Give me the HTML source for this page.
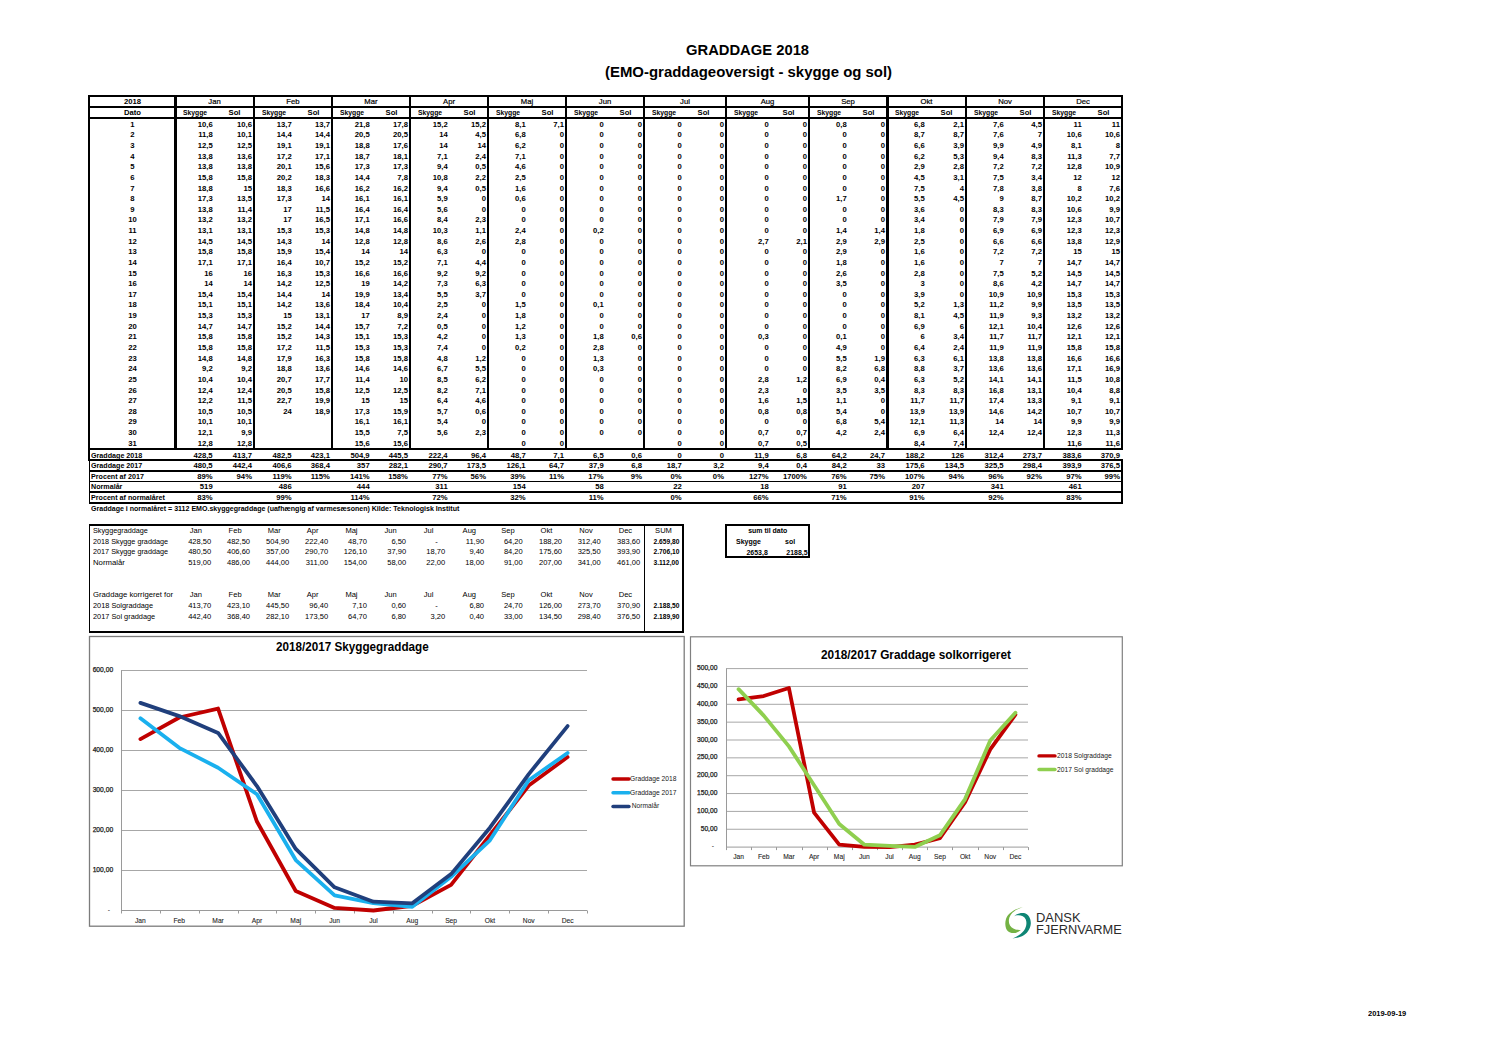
<!DOCTYPE html>
<html><head><meta charset="utf-8">
<style>
html,body{margin:0;padding:0;background:#fff;}
#pg{position:relative;width:1497px;height:1058px;overflow:hidden;background:#fff;font-family:"Liberation Sans",sans-serif;color:#000;}
#pg div,#pg span{position:absolute;white-space:nowrap;}
</style></head><body><div id="pg">
<span style="top:41.70px;font-size:15.12px;line-height:15.12px;font-weight:bold;left:686.40px;transform:scaleX(0.977);transform-origin:left top;">GRADDAGE 2018</span>
<span style="top:65.25px;font-size:14.83px;line-height:14.83px;font-weight:bold;left:604.50px;transform:scaleX(1.007);transform-origin:left top;">(EMO-graddageoversigt - skygge og sol)</span>
<div style="left:88px;top:95px;width:1035px;height:2px;background:#000"></div>
<div style="left:88px;top:106px;width:1035px;height:2px;background:#000"></div>
<div style="left:88px;top:117px;width:1035px;height:2px;background:#000"></div>
<div style="left:88px;top:448px;width:1035px;height:2px;background:#000"></div>
<div style="left:88px;top:95px;width:2px;height:366px;background:#000"></div>
<div style="left:174px;top:95px;width:2.6px;height:355px;background:#000"></div>
<div style="left:253px;top:95px;width:2px;height:355px;background:#000"></div>
<div style="left:331px;top:95px;width:2px;height:355px;background:#000"></div>
<div style="left:409px;top:95px;width:2px;height:355px;background:#000"></div>
<div style="left:487px;top:95px;width:2px;height:355px;background:#000"></div>
<div style="left:565px;top:95px;width:2px;height:355px;background:#000"></div>
<div style="left:643px;top:95px;width:2px;height:355px;background:#000"></div>
<div style="left:725px;top:95px;width:2px;height:355px;background:#000"></div>
<div style="left:808px;top:95px;width:2px;height:355px;background:#000"></div>
<div style="left:886px;top:95px;width:2.6px;height:355px;background:#000"></div>
<div style="left:965px;top:95px;width:2px;height:355px;background:#000"></div>
<div style="left:1043px;top:95px;width:2px;height:355px;background:#000"></div>
<div style="left:1121px;top:95px;width:2px;height:355px;background:#000"></div>
<div style="left:89px;top:459px;width:1034px;height:2px;background:#000"></div>
<div style="left:89px;top:470px;width:1034px;height:2px;background:#000"></div>
<div style="left:89px;top:481px;width:1034px;height:1px;background:#000"></div>
<div style="left:89px;top:491px;width:1034px;height:2px;background:#000"></div>
<div style="left:89px;top:502px;width:1034px;height:2px;background:#000"></div>
<div style="left:89px;top:459px;width:1px;height:45px;background:#000"></div>
<div style="left:1121px;top:459px;width:2px;height:45px;background:#000"></div>
<span style="top:97.98px;font-size:7.70px;line-height:7.70px;font-weight:bold;left:123.93px;">2018</span>
<span style="top:108.58px;font-size:7.70px;line-height:7.70px;font-weight:bold;left:123.94px;">Dato</span>
<span style="top:97.98px;font-size:7.70px;line-height:7.70px;-webkit-text-stroke:0.2px #000;left:208.29px;">Jan</span>
<span style="top:108.58px;font-size:7.70px;line-height:7.70px;font-weight:bold;left:182.70px;transform:scaleX(0.880);transform-origin:left top;">Skygge</span>
<span style="top:108.58px;font-size:7.70px;line-height:7.70px;font-weight:bold;left:228.50px;">Sol</span>
<span style="top:97.98px;font-size:7.70px;line-height:7.70px;-webkit-text-stroke:0.2px #000;left:286.36px;">Feb</span>
<span style="top:108.58px;font-size:7.70px;line-height:7.70px;font-weight:bold;left:261.70px;transform:scaleX(0.880);transform-origin:left top;">Skygge</span>
<span style="top:108.58px;font-size:7.70px;line-height:7.70px;font-weight:bold;left:307.50px;">Sol</span>
<span style="top:97.98px;font-size:7.70px;line-height:7.70px;-webkit-text-stroke:0.2px #000;left:364.37px;">Mar</span>
<span style="top:108.58px;font-size:7.70px;line-height:7.70px;font-weight:bold;left:339.70px;transform:scaleX(0.880);transform-origin:left top;">Skygge</span>
<span style="top:108.58px;font-size:7.70px;line-height:7.70px;font-weight:bold;left:385.50px;">Sol</span>
<span style="top:97.98px;font-size:7.70px;line-height:7.70px;-webkit-text-stroke:0.2px #000;left:443.01px;">Apr</span>
<span style="top:108.58px;font-size:7.70px;line-height:7.70px;font-weight:bold;left:417.70px;transform:scaleX(0.880);transform-origin:left top;">Skygge</span>
<span style="top:108.58px;font-size:7.70px;line-height:7.70px;font-weight:bold;left:463.50px;">Sol</span>
<span style="top:97.98px;font-size:7.70px;line-height:7.70px;-webkit-text-stroke:0.2px #000;left:520.79px;">Maj</span>
<span style="top:108.58px;font-size:7.70px;line-height:7.70px;font-weight:bold;left:495.70px;transform:scaleX(0.880);transform-origin:left top;">Skygge</span>
<span style="top:108.58px;font-size:7.70px;line-height:7.70px;font-weight:bold;left:541.50px;">Sol</span>
<span style="top:97.98px;font-size:7.70px;line-height:7.70px;-webkit-text-stroke:0.2px #000;left:598.79px;">Jun</span>
<span style="top:108.58px;font-size:7.70px;line-height:7.70px;font-weight:bold;left:573.70px;transform:scaleX(0.880);transform-origin:left top;">Skygge</span>
<span style="top:108.58px;font-size:7.70px;line-height:7.70px;font-weight:bold;left:619.50px;">Sol</span>
<span style="top:97.98px;font-size:7.70px;line-height:7.70px;-webkit-text-stroke:0.2px #000;left:680.08px;">Jul</span>
<span style="top:108.58px;font-size:7.70px;line-height:7.70px;font-weight:bold;left:651.70px;transform:scaleX(0.880);transform-origin:left top;">Skygge</span>
<span style="top:108.58px;font-size:7.70px;line-height:7.70px;font-weight:bold;left:697.50px;">Sol</span>
<span style="top:97.98px;font-size:7.70px;line-height:7.70px;-webkit-text-stroke:0.2px #000;left:760.65px;">Aug</span>
<span style="top:108.58px;font-size:7.70px;line-height:7.70px;font-weight:bold;left:733.70px;transform:scaleX(0.880);transform-origin:left top;">Skygge</span>
<span style="top:108.58px;font-size:7.70px;line-height:7.70px;font-weight:bold;left:782.50px;">Sol</span>
<span style="top:97.98px;font-size:7.70px;line-height:7.70px;-webkit-text-stroke:0.2px #000;left:841.15px;">Sep</span>
<span style="top:108.58px;font-size:7.70px;line-height:7.70px;font-weight:bold;left:816.70px;transform:scaleX(0.880);transform-origin:left top;">Skygge</span>
<span style="top:108.58px;font-size:7.70px;line-height:7.70px;font-weight:bold;left:862.50px;">Sol</span>
<span style="top:97.98px;font-size:7.70px;line-height:7.70px;-webkit-text-stroke:0.2px #000;left:920.51px;">Okt</span>
<span style="top:108.58px;font-size:7.70px;line-height:7.70px;font-weight:bold;left:894.70px;transform:scaleX(0.880);transform-origin:left top;">Skygge</span>
<span style="top:108.58px;font-size:7.70px;line-height:7.70px;font-weight:bold;left:940.50px;">Sol</span>
<span style="top:97.98px;font-size:7.70px;line-height:7.70px;-webkit-text-stroke:0.2px #000;left:998.15px;">Nov</span>
<span style="top:108.58px;font-size:7.70px;line-height:7.70px;font-weight:bold;left:973.70px;transform:scaleX(0.880);transform-origin:left top;">Skygge</span>
<span style="top:108.58px;font-size:7.70px;line-height:7.70px;font-weight:bold;left:1019.50px;">Sol</span>
<span style="top:97.98px;font-size:7.70px;line-height:7.70px;-webkit-text-stroke:0.2px #000;left:1076.15px;">Dec</span>
<span style="top:108.58px;font-size:7.70px;line-height:7.70px;font-weight:bold;left:1051.70px;transform:scaleX(0.880);transform-origin:left top;">Skygge</span>
<span style="top:108.58px;font-size:7.70px;line-height:7.70px;font-weight:bold;left:1097.50px;">Sol</span>
<span style="top:120.78px;font-size:7.70px;line-height:7.70px;font-weight:bold;left:130.36px;">1</span>
<span style="top:120.78px;font-size:7.70px;line-height:7.70px;font-weight:bold;left:197.71px;">10,6</span>
<span style="top:120.78px;font-size:7.70px;line-height:7.70px;font-weight:bold;left:237.01px;">10,6</span>
<span style="top:120.78px;font-size:7.70px;line-height:7.70px;font-weight:bold;left:276.71px;">13,7</span>
<span style="top:120.78px;font-size:7.70px;line-height:7.70px;font-weight:bold;left:315.01px;">13,7</span>
<span style="top:120.78px;font-size:7.70px;line-height:7.70px;font-weight:bold;left:354.71px;">21,8</span>
<span style="top:120.78px;font-size:7.70px;line-height:7.70px;font-weight:bold;left:393.01px;">17,8</span>
<span style="top:120.78px;font-size:7.70px;line-height:7.70px;font-weight:bold;left:432.71px;">15,2</span>
<span style="top:120.78px;font-size:7.70px;line-height:7.70px;font-weight:bold;left:471.01px;">15,2</span>
<span style="top:120.78px;font-size:7.70px;line-height:7.70px;font-weight:bold;left:514.99px;">8,1</span>
<span style="top:120.78px;font-size:7.70px;line-height:7.70px;font-weight:bold;left:553.29px;">7,1</span>
<span style="top:120.78px;font-size:7.70px;line-height:7.70px;font-weight:bold;left:599.42px;">0</span>
<span style="top:120.78px;font-size:7.70px;line-height:7.70px;font-weight:bold;left:637.72px;">0</span>
<span style="top:120.78px;font-size:7.70px;line-height:7.70px;font-weight:bold;left:677.42px;">0</span>
<span style="top:120.78px;font-size:7.70px;line-height:7.70px;font-weight:bold;left:719.72px;">0</span>
<span style="top:120.78px;font-size:7.70px;line-height:7.70px;font-weight:bold;left:764.42px;">0</span>
<span style="top:120.78px;font-size:7.70px;line-height:7.70px;font-weight:bold;left:802.72px;">0</span>
<span style="top:120.78px;font-size:7.70px;line-height:7.70px;font-weight:bold;left:835.99px;">0,8</span>
<span style="top:120.78px;font-size:7.70px;line-height:7.70px;font-weight:bold;left:880.72px;">0</span>
<span style="top:120.78px;font-size:7.70px;line-height:7.70px;font-weight:bold;left:913.99px;">6,8</span>
<span style="top:120.78px;font-size:7.70px;line-height:7.70px;font-weight:bold;left:953.29px;">2,1</span>
<span style="top:120.78px;font-size:7.70px;line-height:7.70px;font-weight:bold;left:992.99px;">7,6</span>
<span style="top:120.78px;font-size:7.70px;line-height:7.70px;font-weight:bold;left:1031.29px;">4,5</span>
<span style="top:120.78px;font-size:7.70px;line-height:7.70px;font-weight:bold;left:1073.56px;">11</span>
<span style="top:120.78px;font-size:7.70px;line-height:7.70px;font-weight:bold;left:1111.86px;">11</span>
<span style="top:131.41px;font-size:7.70px;line-height:7.70px;font-weight:bold;left:130.36px;">2</span>
<span style="top:131.41px;font-size:7.70px;line-height:7.70px;font-weight:bold;left:198.13px;">11,8</span>
<span style="top:131.41px;font-size:7.70px;line-height:7.70px;font-weight:bold;left:237.01px;">10,1</span>
<span style="top:131.41px;font-size:7.70px;line-height:7.70px;font-weight:bold;left:276.71px;">14,4</span>
<span style="top:131.41px;font-size:7.70px;line-height:7.70px;font-weight:bold;left:315.01px;">14,4</span>
<span style="top:131.41px;font-size:7.70px;line-height:7.70px;font-weight:bold;left:354.71px;">20,5</span>
<span style="top:131.41px;font-size:7.70px;line-height:7.70px;font-weight:bold;left:393.01px;">20,5</span>
<span style="top:131.41px;font-size:7.70px;line-height:7.70px;font-weight:bold;left:439.13px;">14</span>
<span style="top:131.41px;font-size:7.70px;line-height:7.70px;font-weight:bold;left:475.29px;">4,5</span>
<span style="top:131.41px;font-size:7.70px;line-height:7.70px;font-weight:bold;left:514.99px;">6,8</span>
<span style="top:131.41px;font-size:7.70px;line-height:7.70px;font-weight:bold;left:559.72px;">0</span>
<span style="top:131.41px;font-size:7.70px;line-height:7.70px;font-weight:bold;left:599.42px;">0</span>
<span style="top:131.41px;font-size:7.70px;line-height:7.70px;font-weight:bold;left:637.72px;">0</span>
<span style="top:131.41px;font-size:7.70px;line-height:7.70px;font-weight:bold;left:677.42px;">0</span>
<span style="top:131.41px;font-size:7.70px;line-height:7.70px;font-weight:bold;left:719.72px;">0</span>
<span style="top:131.41px;font-size:7.70px;line-height:7.70px;font-weight:bold;left:764.42px;">0</span>
<span style="top:131.41px;font-size:7.70px;line-height:7.70px;font-weight:bold;left:802.72px;">0</span>
<span style="top:131.41px;font-size:7.70px;line-height:7.70px;font-weight:bold;left:842.42px;">0</span>
<span style="top:131.41px;font-size:7.70px;line-height:7.70px;font-weight:bold;left:880.72px;">0</span>
<span style="top:131.41px;font-size:7.70px;line-height:7.70px;font-weight:bold;left:913.99px;">8,7</span>
<span style="top:131.41px;font-size:7.70px;line-height:7.70px;font-weight:bold;left:953.29px;">8,7</span>
<span style="top:131.41px;font-size:7.70px;line-height:7.70px;font-weight:bold;left:992.99px;">7,6</span>
<span style="top:131.41px;font-size:7.70px;line-height:7.70px;font-weight:bold;left:1037.72px;">7</span>
<span style="top:131.41px;font-size:7.70px;line-height:7.70px;font-weight:bold;left:1066.71px;">10,6</span>
<span style="top:131.41px;font-size:7.70px;line-height:7.70px;font-weight:bold;left:1105.01px;">10,6</span>
<span style="top:142.04px;font-size:7.70px;line-height:7.70px;font-weight:bold;left:130.36px;">3</span>
<span style="top:142.04px;font-size:7.70px;line-height:7.70px;font-weight:bold;left:197.71px;">12,5</span>
<span style="top:142.04px;font-size:7.70px;line-height:7.70px;font-weight:bold;left:237.01px;">12,5</span>
<span style="top:142.04px;font-size:7.70px;line-height:7.70px;font-weight:bold;left:276.71px;">19,1</span>
<span style="top:142.04px;font-size:7.70px;line-height:7.70px;font-weight:bold;left:315.01px;">19,1</span>
<span style="top:142.04px;font-size:7.70px;line-height:7.70px;font-weight:bold;left:354.71px;">18,8</span>
<span style="top:142.04px;font-size:7.70px;line-height:7.70px;font-weight:bold;left:393.01px;">17,6</span>
<span style="top:142.04px;font-size:7.70px;line-height:7.70px;font-weight:bold;left:439.13px;">14</span>
<span style="top:142.04px;font-size:7.70px;line-height:7.70px;font-weight:bold;left:477.43px;">14</span>
<span style="top:142.04px;font-size:7.70px;line-height:7.70px;font-weight:bold;left:514.99px;">6,2</span>
<span style="top:142.04px;font-size:7.70px;line-height:7.70px;font-weight:bold;left:559.72px;">0</span>
<span style="top:142.04px;font-size:7.70px;line-height:7.70px;font-weight:bold;left:599.42px;">0</span>
<span style="top:142.04px;font-size:7.70px;line-height:7.70px;font-weight:bold;left:637.72px;">0</span>
<span style="top:142.04px;font-size:7.70px;line-height:7.70px;font-weight:bold;left:677.42px;">0</span>
<span style="top:142.04px;font-size:7.70px;line-height:7.70px;font-weight:bold;left:719.72px;">0</span>
<span style="top:142.04px;font-size:7.70px;line-height:7.70px;font-weight:bold;left:764.42px;">0</span>
<span style="top:142.04px;font-size:7.70px;line-height:7.70px;font-weight:bold;left:802.72px;">0</span>
<span style="top:142.04px;font-size:7.70px;line-height:7.70px;font-weight:bold;left:842.42px;">0</span>
<span style="top:142.04px;font-size:7.70px;line-height:7.70px;font-weight:bold;left:880.72px;">0</span>
<span style="top:142.04px;font-size:7.70px;line-height:7.70px;font-weight:bold;left:913.99px;">6,6</span>
<span style="top:142.04px;font-size:7.70px;line-height:7.70px;font-weight:bold;left:953.29px;">3,9</span>
<span style="top:142.04px;font-size:7.70px;line-height:7.70px;font-weight:bold;left:992.99px;">9,9</span>
<span style="top:142.04px;font-size:7.70px;line-height:7.70px;font-weight:bold;left:1031.29px;">4,9</span>
<span style="top:142.04px;font-size:7.70px;line-height:7.70px;font-weight:bold;left:1070.99px;">8,1</span>
<span style="top:142.04px;font-size:7.70px;line-height:7.70px;font-weight:bold;left:1115.72px;">8</span>
<span style="top:152.67px;font-size:7.70px;line-height:7.70px;font-weight:bold;left:130.36px;">4</span>
<span style="top:152.67px;font-size:7.70px;line-height:7.70px;font-weight:bold;left:197.71px;">13,8</span>
<span style="top:152.67px;font-size:7.70px;line-height:7.70px;font-weight:bold;left:237.01px;">13,6</span>
<span style="top:152.67px;font-size:7.70px;line-height:7.70px;font-weight:bold;left:276.71px;">17,2</span>
<span style="top:152.67px;font-size:7.70px;line-height:7.70px;font-weight:bold;left:315.01px;">17,1</span>
<span style="top:152.67px;font-size:7.70px;line-height:7.70px;font-weight:bold;left:354.71px;">18,7</span>
<span style="top:152.67px;font-size:7.70px;line-height:7.70px;font-weight:bold;left:393.01px;">18,1</span>
<span style="top:152.67px;font-size:7.70px;line-height:7.70px;font-weight:bold;left:436.99px;">7,1</span>
<span style="top:152.67px;font-size:7.70px;line-height:7.70px;font-weight:bold;left:475.29px;">2,4</span>
<span style="top:152.67px;font-size:7.70px;line-height:7.70px;font-weight:bold;left:514.99px;">7,1</span>
<span style="top:152.67px;font-size:7.70px;line-height:7.70px;font-weight:bold;left:559.72px;">0</span>
<span style="top:152.67px;font-size:7.70px;line-height:7.70px;font-weight:bold;left:599.42px;">0</span>
<span style="top:152.67px;font-size:7.70px;line-height:7.70px;font-weight:bold;left:637.72px;">0</span>
<span style="top:152.67px;font-size:7.70px;line-height:7.70px;font-weight:bold;left:677.42px;">0</span>
<span style="top:152.67px;font-size:7.70px;line-height:7.70px;font-weight:bold;left:719.72px;">0</span>
<span style="top:152.67px;font-size:7.70px;line-height:7.70px;font-weight:bold;left:764.42px;">0</span>
<span style="top:152.67px;font-size:7.70px;line-height:7.70px;font-weight:bold;left:802.72px;">0</span>
<span style="top:152.67px;font-size:7.70px;line-height:7.70px;font-weight:bold;left:842.42px;">0</span>
<span style="top:152.67px;font-size:7.70px;line-height:7.70px;font-weight:bold;left:880.72px;">0</span>
<span style="top:152.67px;font-size:7.70px;line-height:7.70px;font-weight:bold;left:913.99px;">6,2</span>
<span style="top:152.67px;font-size:7.70px;line-height:7.70px;font-weight:bold;left:953.29px;">5,3</span>
<span style="top:152.67px;font-size:7.70px;line-height:7.70px;font-weight:bold;left:992.99px;">9,4</span>
<span style="top:152.67px;font-size:7.70px;line-height:7.70px;font-weight:bold;left:1031.29px;">8,3</span>
<span style="top:152.67px;font-size:7.70px;line-height:7.70px;font-weight:bold;left:1067.13px;">11,3</span>
<span style="top:152.67px;font-size:7.70px;line-height:7.70px;font-weight:bold;left:1109.29px;">7,7</span>
<span style="top:163.30px;font-size:7.70px;line-height:7.70px;font-weight:bold;left:130.36px;">5</span>
<span style="top:163.30px;font-size:7.70px;line-height:7.70px;font-weight:bold;left:197.71px;">13,8</span>
<span style="top:163.30px;font-size:7.70px;line-height:7.70px;font-weight:bold;left:237.01px;">13,8</span>
<span style="top:163.30px;font-size:7.70px;line-height:7.70px;font-weight:bold;left:276.71px;">20,1</span>
<span style="top:163.30px;font-size:7.70px;line-height:7.70px;font-weight:bold;left:315.01px;">15,6</span>
<span style="top:163.30px;font-size:7.70px;line-height:7.70px;font-weight:bold;left:354.71px;">17,3</span>
<span style="top:163.30px;font-size:7.70px;line-height:7.70px;font-weight:bold;left:393.01px;">17,3</span>
<span style="top:163.30px;font-size:7.70px;line-height:7.70px;font-weight:bold;left:436.99px;">9,4</span>
<span style="top:163.30px;font-size:7.70px;line-height:7.70px;font-weight:bold;left:475.29px;">0,5</span>
<span style="top:163.30px;font-size:7.70px;line-height:7.70px;font-weight:bold;left:514.99px;">4,6</span>
<span style="top:163.30px;font-size:7.70px;line-height:7.70px;font-weight:bold;left:559.72px;">0</span>
<span style="top:163.30px;font-size:7.70px;line-height:7.70px;font-weight:bold;left:599.42px;">0</span>
<span style="top:163.30px;font-size:7.70px;line-height:7.70px;font-weight:bold;left:637.72px;">0</span>
<span style="top:163.30px;font-size:7.70px;line-height:7.70px;font-weight:bold;left:677.42px;">0</span>
<span style="top:163.30px;font-size:7.70px;line-height:7.70px;font-weight:bold;left:719.72px;">0</span>
<span style="top:163.30px;font-size:7.70px;line-height:7.70px;font-weight:bold;left:764.42px;">0</span>
<span style="top:163.30px;font-size:7.70px;line-height:7.70px;font-weight:bold;left:802.72px;">0</span>
<span style="top:163.30px;font-size:7.70px;line-height:7.70px;font-weight:bold;left:842.42px;">0</span>
<span style="top:163.30px;font-size:7.70px;line-height:7.70px;font-weight:bold;left:880.72px;">0</span>
<span style="top:163.30px;font-size:7.70px;line-height:7.70px;font-weight:bold;left:913.99px;">2,9</span>
<span style="top:163.30px;font-size:7.70px;line-height:7.70px;font-weight:bold;left:953.29px;">2,8</span>
<span style="top:163.30px;font-size:7.70px;line-height:7.70px;font-weight:bold;left:992.99px;">7,2</span>
<span style="top:163.30px;font-size:7.70px;line-height:7.70px;font-weight:bold;left:1031.29px;">7,2</span>
<span style="top:163.30px;font-size:7.70px;line-height:7.70px;font-weight:bold;left:1066.71px;">12,8</span>
<span style="top:163.30px;font-size:7.70px;line-height:7.70px;font-weight:bold;left:1105.01px;">10,9</span>
<span style="top:173.93px;font-size:7.70px;line-height:7.70px;font-weight:bold;left:130.36px;">6</span>
<span style="top:173.93px;font-size:7.70px;line-height:7.70px;font-weight:bold;left:197.71px;">15,8</span>
<span style="top:173.93px;font-size:7.70px;line-height:7.70px;font-weight:bold;left:237.01px;">15,8</span>
<span style="top:173.93px;font-size:7.70px;line-height:7.70px;font-weight:bold;left:276.71px;">20,2</span>
<span style="top:173.93px;font-size:7.70px;line-height:7.70px;font-weight:bold;left:315.01px;">18,3</span>
<span style="top:173.93px;font-size:7.70px;line-height:7.70px;font-weight:bold;left:354.71px;">14,4</span>
<span style="top:173.93px;font-size:7.70px;line-height:7.70px;font-weight:bold;left:397.29px;">7,8</span>
<span style="top:173.93px;font-size:7.70px;line-height:7.70px;font-weight:bold;left:432.71px;">10,8</span>
<span style="top:173.93px;font-size:7.70px;line-height:7.70px;font-weight:bold;left:475.29px;">2,2</span>
<span style="top:173.93px;font-size:7.70px;line-height:7.70px;font-weight:bold;left:514.99px;">2,5</span>
<span style="top:173.93px;font-size:7.70px;line-height:7.70px;font-weight:bold;left:559.72px;">0</span>
<span style="top:173.93px;font-size:7.70px;line-height:7.70px;font-weight:bold;left:599.42px;">0</span>
<span style="top:173.93px;font-size:7.70px;line-height:7.70px;font-weight:bold;left:637.72px;">0</span>
<span style="top:173.93px;font-size:7.70px;line-height:7.70px;font-weight:bold;left:677.42px;">0</span>
<span style="top:173.93px;font-size:7.70px;line-height:7.70px;font-weight:bold;left:719.72px;">0</span>
<span style="top:173.93px;font-size:7.70px;line-height:7.70px;font-weight:bold;left:764.42px;">0</span>
<span style="top:173.93px;font-size:7.70px;line-height:7.70px;font-weight:bold;left:802.72px;">0</span>
<span style="top:173.93px;font-size:7.70px;line-height:7.70px;font-weight:bold;left:842.42px;">0</span>
<span style="top:173.93px;font-size:7.70px;line-height:7.70px;font-weight:bold;left:880.72px;">0</span>
<span style="top:173.93px;font-size:7.70px;line-height:7.70px;font-weight:bold;left:913.99px;">4,5</span>
<span style="top:173.93px;font-size:7.70px;line-height:7.70px;font-weight:bold;left:953.29px;">3,1</span>
<span style="top:173.93px;font-size:7.70px;line-height:7.70px;font-weight:bold;left:992.99px;">7,5</span>
<span style="top:173.93px;font-size:7.70px;line-height:7.70px;font-weight:bold;left:1031.29px;">3,4</span>
<span style="top:173.93px;font-size:7.70px;line-height:7.70px;font-weight:bold;left:1073.13px;">12</span>
<span style="top:173.93px;font-size:7.70px;line-height:7.70px;font-weight:bold;left:1111.43px;">12</span>
<span style="top:184.56px;font-size:7.70px;line-height:7.70px;font-weight:bold;left:130.36px;">7</span>
<span style="top:184.56px;font-size:7.70px;line-height:7.70px;font-weight:bold;left:197.71px;">18,8</span>
<span style="top:184.56px;font-size:7.70px;line-height:7.70px;font-weight:bold;left:243.43px;">15</span>
<span style="top:184.56px;font-size:7.70px;line-height:7.70px;font-weight:bold;left:276.71px;">18,3</span>
<span style="top:184.56px;font-size:7.70px;line-height:7.70px;font-weight:bold;left:315.01px;">16,6</span>
<span style="top:184.56px;font-size:7.70px;line-height:7.70px;font-weight:bold;left:354.71px;">16,2</span>
<span style="top:184.56px;font-size:7.70px;line-height:7.70px;font-weight:bold;left:393.01px;">16,2</span>
<span style="top:184.56px;font-size:7.70px;line-height:7.70px;font-weight:bold;left:436.99px;">9,4</span>
<span style="top:184.56px;font-size:7.70px;line-height:7.70px;font-weight:bold;left:475.29px;">0,5</span>
<span style="top:184.56px;font-size:7.70px;line-height:7.70px;font-weight:bold;left:514.99px;">1,6</span>
<span style="top:184.56px;font-size:7.70px;line-height:7.70px;font-weight:bold;left:559.72px;">0</span>
<span style="top:184.56px;font-size:7.70px;line-height:7.70px;font-weight:bold;left:599.42px;">0</span>
<span style="top:184.56px;font-size:7.70px;line-height:7.70px;font-weight:bold;left:637.72px;">0</span>
<span style="top:184.56px;font-size:7.70px;line-height:7.70px;font-weight:bold;left:677.42px;">0</span>
<span style="top:184.56px;font-size:7.70px;line-height:7.70px;font-weight:bold;left:719.72px;">0</span>
<span style="top:184.56px;font-size:7.70px;line-height:7.70px;font-weight:bold;left:764.42px;">0</span>
<span style="top:184.56px;font-size:7.70px;line-height:7.70px;font-weight:bold;left:802.72px;">0</span>
<span style="top:184.56px;font-size:7.70px;line-height:7.70px;font-weight:bold;left:842.42px;">0</span>
<span style="top:184.56px;font-size:7.70px;line-height:7.70px;font-weight:bold;left:880.72px;">0</span>
<span style="top:184.56px;font-size:7.70px;line-height:7.70px;font-weight:bold;left:913.99px;">7,5</span>
<span style="top:184.56px;font-size:7.70px;line-height:7.70px;font-weight:bold;left:959.72px;">4</span>
<span style="top:184.56px;font-size:7.70px;line-height:7.70px;font-weight:bold;left:992.99px;">7,8</span>
<span style="top:184.56px;font-size:7.70px;line-height:7.70px;font-weight:bold;left:1031.29px;">3,8</span>
<span style="top:184.56px;font-size:7.70px;line-height:7.70px;font-weight:bold;left:1077.42px;">8</span>
<span style="top:184.56px;font-size:7.70px;line-height:7.70px;font-weight:bold;left:1109.29px;">7,6</span>
<span style="top:195.19px;font-size:7.70px;line-height:7.70px;font-weight:bold;left:130.36px;">8</span>
<span style="top:195.19px;font-size:7.70px;line-height:7.70px;font-weight:bold;left:197.71px;">17,3</span>
<span style="top:195.19px;font-size:7.70px;line-height:7.70px;font-weight:bold;left:237.01px;">13,5</span>
<span style="top:195.19px;font-size:7.70px;line-height:7.70px;font-weight:bold;left:276.71px;">17,3</span>
<span style="top:195.19px;font-size:7.70px;line-height:7.70px;font-weight:bold;left:321.43px;">14</span>
<span style="top:195.19px;font-size:7.70px;line-height:7.70px;font-weight:bold;left:354.71px;">16,1</span>
<span style="top:195.19px;font-size:7.70px;line-height:7.70px;font-weight:bold;left:393.01px;">16,1</span>
<span style="top:195.19px;font-size:7.70px;line-height:7.70px;font-weight:bold;left:436.99px;">5,9</span>
<span style="top:195.19px;font-size:7.70px;line-height:7.70px;font-weight:bold;left:481.72px;">0</span>
<span style="top:195.19px;font-size:7.70px;line-height:7.70px;font-weight:bold;left:514.99px;">0,6</span>
<span style="top:195.19px;font-size:7.70px;line-height:7.70px;font-weight:bold;left:559.72px;">0</span>
<span style="top:195.19px;font-size:7.70px;line-height:7.70px;font-weight:bold;left:599.42px;">0</span>
<span style="top:195.19px;font-size:7.70px;line-height:7.70px;font-weight:bold;left:637.72px;">0</span>
<span style="top:195.19px;font-size:7.70px;line-height:7.70px;font-weight:bold;left:677.42px;">0</span>
<span style="top:195.19px;font-size:7.70px;line-height:7.70px;font-weight:bold;left:719.72px;">0</span>
<span style="top:195.19px;font-size:7.70px;line-height:7.70px;font-weight:bold;left:764.42px;">0</span>
<span style="top:195.19px;font-size:7.70px;line-height:7.70px;font-weight:bold;left:802.72px;">0</span>
<span style="top:195.19px;font-size:7.70px;line-height:7.70px;font-weight:bold;left:835.99px;">1,7</span>
<span style="top:195.19px;font-size:7.70px;line-height:7.70px;font-weight:bold;left:880.72px;">0</span>
<span style="top:195.19px;font-size:7.70px;line-height:7.70px;font-weight:bold;left:913.99px;">5,5</span>
<span style="top:195.19px;font-size:7.70px;line-height:7.70px;font-weight:bold;left:953.29px;">4,5</span>
<span style="top:195.19px;font-size:7.70px;line-height:7.70px;font-weight:bold;left:999.42px;">9</span>
<span style="top:195.19px;font-size:7.70px;line-height:7.70px;font-weight:bold;left:1031.29px;">8,7</span>
<span style="top:195.19px;font-size:7.70px;line-height:7.70px;font-weight:bold;left:1066.71px;">10,2</span>
<span style="top:195.19px;font-size:7.70px;line-height:7.70px;font-weight:bold;left:1105.01px;">10,2</span>
<span style="top:205.82px;font-size:7.70px;line-height:7.70px;font-weight:bold;left:130.36px;">9</span>
<span style="top:205.82px;font-size:7.70px;line-height:7.70px;font-weight:bold;left:197.71px;">13,8</span>
<span style="top:205.82px;font-size:7.70px;line-height:7.70px;font-weight:bold;left:237.43px;">11,4</span>
<span style="top:205.82px;font-size:7.70px;line-height:7.70px;font-weight:bold;left:283.13px;">17</span>
<span style="top:205.82px;font-size:7.70px;line-height:7.70px;font-weight:bold;left:315.43px;">11,5</span>
<span style="top:205.82px;font-size:7.70px;line-height:7.70px;font-weight:bold;left:354.71px;">16,4</span>
<span style="top:205.82px;font-size:7.70px;line-height:7.70px;font-weight:bold;left:393.01px;">16,4</span>
<span style="top:205.82px;font-size:7.70px;line-height:7.70px;font-weight:bold;left:436.99px;">5,6</span>
<span style="top:205.82px;font-size:7.70px;line-height:7.70px;font-weight:bold;left:481.72px;">0</span>
<span style="top:205.82px;font-size:7.70px;line-height:7.70px;font-weight:bold;left:521.42px;">0</span>
<span style="top:205.82px;font-size:7.70px;line-height:7.70px;font-weight:bold;left:559.72px;">0</span>
<span style="top:205.82px;font-size:7.70px;line-height:7.70px;font-weight:bold;left:599.42px;">0</span>
<span style="top:205.82px;font-size:7.70px;line-height:7.70px;font-weight:bold;left:637.72px;">0</span>
<span style="top:205.82px;font-size:7.70px;line-height:7.70px;font-weight:bold;left:677.42px;">0</span>
<span style="top:205.82px;font-size:7.70px;line-height:7.70px;font-weight:bold;left:719.72px;">0</span>
<span style="top:205.82px;font-size:7.70px;line-height:7.70px;font-weight:bold;left:764.42px;">0</span>
<span style="top:205.82px;font-size:7.70px;line-height:7.70px;font-weight:bold;left:802.72px;">0</span>
<span style="top:205.82px;font-size:7.70px;line-height:7.70px;font-weight:bold;left:842.42px;">0</span>
<span style="top:205.82px;font-size:7.70px;line-height:7.70px;font-weight:bold;left:880.72px;">0</span>
<span style="top:205.82px;font-size:7.70px;line-height:7.70px;font-weight:bold;left:913.99px;">3,6</span>
<span style="top:205.82px;font-size:7.70px;line-height:7.70px;font-weight:bold;left:959.72px;">0</span>
<span style="top:205.82px;font-size:7.70px;line-height:7.70px;font-weight:bold;left:992.99px;">8,3</span>
<span style="top:205.82px;font-size:7.70px;line-height:7.70px;font-weight:bold;left:1031.29px;">8,3</span>
<span style="top:205.82px;font-size:7.70px;line-height:7.70px;font-weight:bold;left:1066.71px;">10,6</span>
<span style="top:205.82px;font-size:7.70px;line-height:7.70px;font-weight:bold;left:1109.29px;">9,9</span>
<span style="top:216.45px;font-size:7.70px;line-height:7.70px;font-weight:bold;left:128.22px;">10</span>
<span style="top:216.45px;font-size:7.70px;line-height:7.70px;font-weight:bold;left:197.71px;">13,2</span>
<span style="top:216.45px;font-size:7.70px;line-height:7.70px;font-weight:bold;left:237.01px;">13,2</span>
<span style="top:216.45px;font-size:7.70px;line-height:7.70px;font-weight:bold;left:283.13px;">17</span>
<span style="top:216.45px;font-size:7.70px;line-height:7.70px;font-weight:bold;left:315.01px;">16,5</span>
<span style="top:216.45px;font-size:7.70px;line-height:7.70px;font-weight:bold;left:354.71px;">17,1</span>
<span style="top:216.45px;font-size:7.70px;line-height:7.70px;font-weight:bold;left:393.01px;">16,6</span>
<span style="top:216.45px;font-size:7.70px;line-height:7.70px;font-weight:bold;left:436.99px;">8,4</span>
<span style="top:216.45px;font-size:7.70px;line-height:7.70px;font-weight:bold;left:475.29px;">2,3</span>
<span style="top:216.45px;font-size:7.70px;line-height:7.70px;font-weight:bold;left:521.42px;">0</span>
<span style="top:216.45px;font-size:7.70px;line-height:7.70px;font-weight:bold;left:559.72px;">0</span>
<span style="top:216.45px;font-size:7.70px;line-height:7.70px;font-weight:bold;left:599.42px;">0</span>
<span style="top:216.45px;font-size:7.70px;line-height:7.70px;font-weight:bold;left:637.72px;">0</span>
<span style="top:216.45px;font-size:7.70px;line-height:7.70px;font-weight:bold;left:677.42px;">0</span>
<span style="top:216.45px;font-size:7.70px;line-height:7.70px;font-weight:bold;left:719.72px;">0</span>
<span style="top:216.45px;font-size:7.70px;line-height:7.70px;font-weight:bold;left:764.42px;">0</span>
<span style="top:216.45px;font-size:7.70px;line-height:7.70px;font-weight:bold;left:802.72px;">0</span>
<span style="top:216.45px;font-size:7.70px;line-height:7.70px;font-weight:bold;left:842.42px;">0</span>
<span style="top:216.45px;font-size:7.70px;line-height:7.70px;font-weight:bold;left:880.72px;">0</span>
<span style="top:216.45px;font-size:7.70px;line-height:7.70px;font-weight:bold;left:913.99px;">3,4</span>
<span style="top:216.45px;font-size:7.70px;line-height:7.70px;font-weight:bold;left:959.72px;">0</span>
<span style="top:216.45px;font-size:7.70px;line-height:7.70px;font-weight:bold;left:992.99px;">7,9</span>
<span style="top:216.45px;font-size:7.70px;line-height:7.70px;font-weight:bold;left:1031.29px;">7,9</span>
<span style="top:216.45px;font-size:7.70px;line-height:7.70px;font-weight:bold;left:1066.71px;">12,3</span>
<span style="top:216.45px;font-size:7.70px;line-height:7.70px;font-weight:bold;left:1105.01px;">10,7</span>
<span style="top:227.08px;font-size:7.70px;line-height:7.70px;font-weight:bold;left:128.43px;">11</span>
<span style="top:227.08px;font-size:7.70px;line-height:7.70px;font-weight:bold;left:197.71px;">13,1</span>
<span style="top:227.08px;font-size:7.70px;line-height:7.70px;font-weight:bold;left:237.01px;">13,1</span>
<span style="top:227.08px;font-size:7.70px;line-height:7.70px;font-weight:bold;left:276.71px;">15,3</span>
<span style="top:227.08px;font-size:7.70px;line-height:7.70px;font-weight:bold;left:315.01px;">15,3</span>
<span style="top:227.08px;font-size:7.70px;line-height:7.70px;font-weight:bold;left:354.71px;">14,8</span>
<span style="top:227.08px;font-size:7.70px;line-height:7.70px;font-weight:bold;left:393.01px;">14,8</span>
<span style="top:227.08px;font-size:7.70px;line-height:7.70px;font-weight:bold;left:432.71px;">10,3</span>
<span style="top:227.08px;font-size:7.70px;line-height:7.70px;font-weight:bold;left:475.29px;">1,1</span>
<span style="top:227.08px;font-size:7.70px;line-height:7.70px;font-weight:bold;left:514.99px;">2,4</span>
<span style="top:227.08px;font-size:7.70px;line-height:7.70px;font-weight:bold;left:559.72px;">0</span>
<span style="top:227.08px;font-size:7.70px;line-height:7.70px;font-weight:bold;left:592.99px;">0,2</span>
<span style="top:227.08px;font-size:7.70px;line-height:7.70px;font-weight:bold;left:637.72px;">0</span>
<span style="top:227.08px;font-size:7.70px;line-height:7.70px;font-weight:bold;left:677.42px;">0</span>
<span style="top:227.08px;font-size:7.70px;line-height:7.70px;font-weight:bold;left:719.72px;">0</span>
<span style="top:227.08px;font-size:7.70px;line-height:7.70px;font-weight:bold;left:764.42px;">0</span>
<span style="top:227.08px;font-size:7.70px;line-height:7.70px;font-weight:bold;left:802.72px;">0</span>
<span style="top:227.08px;font-size:7.70px;line-height:7.70px;font-weight:bold;left:835.99px;">1,4</span>
<span style="top:227.08px;font-size:7.70px;line-height:7.70px;font-weight:bold;left:874.29px;">1,4</span>
<span style="top:227.08px;font-size:7.70px;line-height:7.70px;font-weight:bold;left:913.99px;">1,8</span>
<span style="top:227.08px;font-size:7.70px;line-height:7.70px;font-weight:bold;left:959.72px;">0</span>
<span style="top:227.08px;font-size:7.70px;line-height:7.70px;font-weight:bold;left:992.99px;">6,9</span>
<span style="top:227.08px;font-size:7.70px;line-height:7.70px;font-weight:bold;left:1031.29px;">6,9</span>
<span style="top:227.08px;font-size:7.70px;line-height:7.70px;font-weight:bold;left:1066.71px;">12,3</span>
<span style="top:227.08px;font-size:7.70px;line-height:7.70px;font-weight:bold;left:1105.01px;">12,3</span>
<span style="top:237.71px;font-size:7.70px;line-height:7.70px;font-weight:bold;left:128.22px;">12</span>
<span style="top:237.71px;font-size:7.70px;line-height:7.70px;font-weight:bold;left:197.71px;">14,5</span>
<span style="top:237.71px;font-size:7.70px;line-height:7.70px;font-weight:bold;left:237.01px;">14,5</span>
<span style="top:237.71px;font-size:7.70px;line-height:7.70px;font-weight:bold;left:276.71px;">14,3</span>
<span style="top:237.71px;font-size:7.70px;line-height:7.70px;font-weight:bold;left:321.43px;">14</span>
<span style="top:237.71px;font-size:7.70px;line-height:7.70px;font-weight:bold;left:354.71px;">12,8</span>
<span style="top:237.71px;font-size:7.70px;line-height:7.70px;font-weight:bold;left:393.01px;">12,8</span>
<span style="top:237.71px;font-size:7.70px;line-height:7.70px;font-weight:bold;left:436.99px;">8,6</span>
<span style="top:237.71px;font-size:7.70px;line-height:7.70px;font-weight:bold;left:475.29px;">2,6</span>
<span style="top:237.71px;font-size:7.70px;line-height:7.70px;font-weight:bold;left:514.99px;">2,8</span>
<span style="top:237.71px;font-size:7.70px;line-height:7.70px;font-weight:bold;left:559.72px;">0</span>
<span style="top:237.71px;font-size:7.70px;line-height:7.70px;font-weight:bold;left:599.42px;">0</span>
<span style="top:237.71px;font-size:7.70px;line-height:7.70px;font-weight:bold;left:637.72px;">0</span>
<span style="top:237.71px;font-size:7.70px;line-height:7.70px;font-weight:bold;left:677.42px;">0</span>
<span style="top:237.71px;font-size:7.70px;line-height:7.70px;font-weight:bold;left:719.72px;">0</span>
<span style="top:237.71px;font-size:7.70px;line-height:7.70px;font-weight:bold;left:757.99px;">2,7</span>
<span style="top:237.71px;font-size:7.70px;line-height:7.70px;font-weight:bold;left:796.29px;">2,1</span>
<span style="top:237.71px;font-size:7.70px;line-height:7.70px;font-weight:bold;left:835.99px;">2,9</span>
<span style="top:237.71px;font-size:7.70px;line-height:7.70px;font-weight:bold;left:874.29px;">2,9</span>
<span style="top:237.71px;font-size:7.70px;line-height:7.70px;font-weight:bold;left:913.99px;">2,5</span>
<span style="top:237.71px;font-size:7.70px;line-height:7.70px;font-weight:bold;left:959.72px;">0</span>
<span style="top:237.71px;font-size:7.70px;line-height:7.70px;font-weight:bold;left:992.99px;">6,6</span>
<span style="top:237.71px;font-size:7.70px;line-height:7.70px;font-weight:bold;left:1031.29px;">6,6</span>
<span style="top:237.71px;font-size:7.70px;line-height:7.70px;font-weight:bold;left:1066.71px;">13,8</span>
<span style="top:237.71px;font-size:7.70px;line-height:7.70px;font-weight:bold;left:1105.01px;">12,9</span>
<span style="top:248.34px;font-size:7.70px;line-height:7.70px;font-weight:bold;left:128.22px;">13</span>
<span style="top:248.34px;font-size:7.70px;line-height:7.70px;font-weight:bold;left:197.71px;">15,8</span>
<span style="top:248.34px;font-size:7.70px;line-height:7.70px;font-weight:bold;left:237.01px;">15,8</span>
<span style="top:248.34px;font-size:7.70px;line-height:7.70px;font-weight:bold;left:276.71px;">15,9</span>
<span style="top:248.34px;font-size:7.70px;line-height:7.70px;font-weight:bold;left:315.01px;">15,4</span>
<span style="top:248.34px;font-size:7.70px;line-height:7.70px;font-weight:bold;left:361.13px;">14</span>
<span style="top:248.34px;font-size:7.70px;line-height:7.70px;font-weight:bold;left:399.43px;">14</span>
<span style="top:248.34px;font-size:7.70px;line-height:7.70px;font-weight:bold;left:436.99px;">6,3</span>
<span style="top:248.34px;font-size:7.70px;line-height:7.70px;font-weight:bold;left:481.72px;">0</span>
<span style="top:248.34px;font-size:7.70px;line-height:7.70px;font-weight:bold;left:521.42px;">0</span>
<span style="top:248.34px;font-size:7.70px;line-height:7.70px;font-weight:bold;left:559.72px;">0</span>
<span style="top:248.34px;font-size:7.70px;line-height:7.70px;font-weight:bold;left:599.42px;">0</span>
<span style="top:248.34px;font-size:7.70px;line-height:7.70px;font-weight:bold;left:637.72px;">0</span>
<span style="top:248.34px;font-size:7.70px;line-height:7.70px;font-weight:bold;left:677.42px;">0</span>
<span style="top:248.34px;font-size:7.70px;line-height:7.70px;font-weight:bold;left:719.72px;">0</span>
<span style="top:248.34px;font-size:7.70px;line-height:7.70px;font-weight:bold;left:764.42px;">0</span>
<span style="top:248.34px;font-size:7.70px;line-height:7.70px;font-weight:bold;left:802.72px;">0</span>
<span style="top:248.34px;font-size:7.70px;line-height:7.70px;font-weight:bold;left:835.99px;">2,9</span>
<span style="top:248.34px;font-size:7.70px;line-height:7.70px;font-weight:bold;left:880.72px;">0</span>
<span style="top:248.34px;font-size:7.70px;line-height:7.70px;font-weight:bold;left:913.99px;">1,6</span>
<span style="top:248.34px;font-size:7.70px;line-height:7.70px;font-weight:bold;left:959.72px;">0</span>
<span style="top:248.34px;font-size:7.70px;line-height:7.70px;font-weight:bold;left:992.99px;">7,2</span>
<span style="top:248.34px;font-size:7.70px;line-height:7.70px;font-weight:bold;left:1031.29px;">7,2</span>
<span style="top:248.34px;font-size:7.70px;line-height:7.70px;font-weight:bold;left:1073.13px;">15</span>
<span style="top:248.34px;font-size:7.70px;line-height:7.70px;font-weight:bold;left:1111.43px;">15</span>
<span style="top:258.97px;font-size:7.70px;line-height:7.70px;font-weight:bold;left:128.22px;">14</span>
<span style="top:258.97px;font-size:7.70px;line-height:7.70px;font-weight:bold;left:197.71px;">17,1</span>
<span style="top:258.97px;font-size:7.70px;line-height:7.70px;font-weight:bold;left:237.01px;">17,1</span>
<span style="top:258.97px;font-size:7.70px;line-height:7.70px;font-weight:bold;left:276.71px;">16,4</span>
<span style="top:258.97px;font-size:7.70px;line-height:7.70px;font-weight:bold;left:315.01px;">10,7</span>
<span style="top:258.97px;font-size:7.70px;line-height:7.70px;font-weight:bold;left:354.71px;">15,2</span>
<span style="top:258.97px;font-size:7.70px;line-height:7.70px;font-weight:bold;left:393.01px;">15,2</span>
<span style="top:258.97px;font-size:7.70px;line-height:7.70px;font-weight:bold;left:436.99px;">7,1</span>
<span style="top:258.97px;font-size:7.70px;line-height:7.70px;font-weight:bold;left:475.29px;">4,4</span>
<span style="top:258.97px;font-size:7.70px;line-height:7.70px;font-weight:bold;left:521.42px;">0</span>
<span style="top:258.97px;font-size:7.70px;line-height:7.70px;font-weight:bold;left:559.72px;">0</span>
<span style="top:258.97px;font-size:7.70px;line-height:7.70px;font-weight:bold;left:599.42px;">0</span>
<span style="top:258.97px;font-size:7.70px;line-height:7.70px;font-weight:bold;left:637.72px;">0</span>
<span style="top:258.97px;font-size:7.70px;line-height:7.70px;font-weight:bold;left:677.42px;">0</span>
<span style="top:258.97px;font-size:7.70px;line-height:7.70px;font-weight:bold;left:719.72px;">0</span>
<span style="top:258.97px;font-size:7.70px;line-height:7.70px;font-weight:bold;left:764.42px;">0</span>
<span style="top:258.97px;font-size:7.70px;line-height:7.70px;font-weight:bold;left:802.72px;">0</span>
<span style="top:258.97px;font-size:7.70px;line-height:7.70px;font-weight:bold;left:835.99px;">1,8</span>
<span style="top:258.97px;font-size:7.70px;line-height:7.70px;font-weight:bold;left:880.72px;">0</span>
<span style="top:258.97px;font-size:7.70px;line-height:7.70px;font-weight:bold;left:913.99px;">1,6</span>
<span style="top:258.97px;font-size:7.70px;line-height:7.70px;font-weight:bold;left:959.72px;">0</span>
<span style="top:258.97px;font-size:7.70px;line-height:7.70px;font-weight:bold;left:999.42px;">7</span>
<span style="top:258.97px;font-size:7.70px;line-height:7.70px;font-weight:bold;left:1037.72px;">7</span>
<span style="top:258.97px;font-size:7.70px;line-height:7.70px;font-weight:bold;left:1066.71px;">14,7</span>
<span style="top:258.97px;font-size:7.70px;line-height:7.70px;font-weight:bold;left:1105.01px;">14,7</span>
<span style="top:269.60px;font-size:7.70px;line-height:7.70px;font-weight:bold;left:128.22px;">15</span>
<span style="top:269.60px;font-size:7.70px;line-height:7.70px;font-weight:bold;left:204.13px;">16</span>
<span style="top:269.60px;font-size:7.70px;line-height:7.70px;font-weight:bold;left:243.43px;">16</span>
<span style="top:269.60px;font-size:7.70px;line-height:7.70px;font-weight:bold;left:276.71px;">16,3</span>
<span style="top:269.60px;font-size:7.70px;line-height:7.70px;font-weight:bold;left:315.01px;">15,3</span>
<span style="top:269.60px;font-size:7.70px;line-height:7.70px;font-weight:bold;left:354.71px;">16,6</span>
<span style="top:269.60px;font-size:7.70px;line-height:7.70px;font-weight:bold;left:393.01px;">16,6</span>
<span style="top:269.60px;font-size:7.70px;line-height:7.70px;font-weight:bold;left:436.99px;">9,2</span>
<span style="top:269.60px;font-size:7.70px;line-height:7.70px;font-weight:bold;left:475.29px;">9,2</span>
<span style="top:269.60px;font-size:7.70px;line-height:7.70px;font-weight:bold;left:521.42px;">0</span>
<span style="top:269.60px;font-size:7.70px;line-height:7.70px;font-weight:bold;left:559.72px;">0</span>
<span style="top:269.60px;font-size:7.70px;line-height:7.70px;font-weight:bold;left:599.42px;">0</span>
<span style="top:269.60px;font-size:7.70px;line-height:7.70px;font-weight:bold;left:637.72px;">0</span>
<span style="top:269.60px;font-size:7.70px;line-height:7.70px;font-weight:bold;left:677.42px;">0</span>
<span style="top:269.60px;font-size:7.70px;line-height:7.70px;font-weight:bold;left:719.72px;">0</span>
<span style="top:269.60px;font-size:7.70px;line-height:7.70px;font-weight:bold;left:764.42px;">0</span>
<span style="top:269.60px;font-size:7.70px;line-height:7.70px;font-weight:bold;left:802.72px;">0</span>
<span style="top:269.60px;font-size:7.70px;line-height:7.70px;font-weight:bold;left:835.99px;">2,6</span>
<span style="top:269.60px;font-size:7.70px;line-height:7.70px;font-weight:bold;left:880.72px;">0</span>
<span style="top:269.60px;font-size:7.70px;line-height:7.70px;font-weight:bold;left:913.99px;">2,8</span>
<span style="top:269.60px;font-size:7.70px;line-height:7.70px;font-weight:bold;left:959.72px;">0</span>
<span style="top:269.60px;font-size:7.70px;line-height:7.70px;font-weight:bold;left:992.99px;">7,5</span>
<span style="top:269.60px;font-size:7.70px;line-height:7.70px;font-weight:bold;left:1031.29px;">5,2</span>
<span style="top:269.60px;font-size:7.70px;line-height:7.70px;font-weight:bold;left:1066.71px;">14,5</span>
<span style="top:269.60px;font-size:7.70px;line-height:7.70px;font-weight:bold;left:1105.01px;">14,5</span>
<span style="top:280.23px;font-size:7.70px;line-height:7.70px;font-weight:bold;left:128.22px;">16</span>
<span style="top:280.23px;font-size:7.70px;line-height:7.70px;font-weight:bold;left:204.13px;">14</span>
<span style="top:280.23px;font-size:7.70px;line-height:7.70px;font-weight:bold;left:243.43px;">14</span>
<span style="top:280.23px;font-size:7.70px;line-height:7.70px;font-weight:bold;left:276.71px;">14,2</span>
<span style="top:280.23px;font-size:7.70px;line-height:7.70px;font-weight:bold;left:315.01px;">12,5</span>
<span style="top:280.23px;font-size:7.70px;line-height:7.70px;font-weight:bold;left:361.13px;">19</span>
<span style="top:280.23px;font-size:7.70px;line-height:7.70px;font-weight:bold;left:393.01px;">14,2</span>
<span style="top:280.23px;font-size:7.70px;line-height:7.70px;font-weight:bold;left:436.99px;">7,3</span>
<span style="top:280.23px;font-size:7.70px;line-height:7.70px;font-weight:bold;left:475.29px;">6,3</span>
<span style="top:280.23px;font-size:7.70px;line-height:7.70px;font-weight:bold;left:521.42px;">0</span>
<span style="top:280.23px;font-size:7.70px;line-height:7.70px;font-weight:bold;left:559.72px;">0</span>
<span style="top:280.23px;font-size:7.70px;line-height:7.70px;font-weight:bold;left:599.42px;">0</span>
<span style="top:280.23px;font-size:7.70px;line-height:7.70px;font-weight:bold;left:637.72px;">0</span>
<span style="top:280.23px;font-size:7.70px;line-height:7.70px;font-weight:bold;left:677.42px;">0</span>
<span style="top:280.23px;font-size:7.70px;line-height:7.70px;font-weight:bold;left:719.72px;">0</span>
<span style="top:280.23px;font-size:7.70px;line-height:7.70px;font-weight:bold;left:764.42px;">0</span>
<span style="top:280.23px;font-size:7.70px;line-height:7.70px;font-weight:bold;left:802.72px;">0</span>
<span style="top:280.23px;font-size:7.70px;line-height:7.70px;font-weight:bold;left:835.99px;">3,5</span>
<span style="top:280.23px;font-size:7.70px;line-height:7.70px;font-weight:bold;left:880.72px;">0</span>
<span style="top:280.23px;font-size:7.70px;line-height:7.70px;font-weight:bold;left:920.42px;">3</span>
<span style="top:280.23px;font-size:7.70px;line-height:7.70px;font-weight:bold;left:959.72px;">0</span>
<span style="top:280.23px;font-size:7.70px;line-height:7.70px;font-weight:bold;left:992.99px;">8,6</span>
<span style="top:280.23px;font-size:7.70px;line-height:7.70px;font-weight:bold;left:1031.29px;">4,2</span>
<span style="top:280.23px;font-size:7.70px;line-height:7.70px;font-weight:bold;left:1066.71px;">14,7</span>
<span style="top:280.23px;font-size:7.70px;line-height:7.70px;font-weight:bold;left:1105.01px;">14,7</span>
<span style="top:290.86px;font-size:7.70px;line-height:7.70px;font-weight:bold;left:128.22px;">17</span>
<span style="top:290.86px;font-size:7.70px;line-height:7.70px;font-weight:bold;left:197.71px;">15,4</span>
<span style="top:290.86px;font-size:7.70px;line-height:7.70px;font-weight:bold;left:237.01px;">15,4</span>
<span style="top:290.86px;font-size:7.70px;line-height:7.70px;font-weight:bold;left:276.71px;">14,4</span>
<span style="top:290.86px;font-size:7.70px;line-height:7.70px;font-weight:bold;left:321.43px;">14</span>
<span style="top:290.86px;font-size:7.70px;line-height:7.70px;font-weight:bold;left:354.71px;">19,9</span>
<span style="top:290.86px;font-size:7.70px;line-height:7.70px;font-weight:bold;left:393.01px;">13,4</span>
<span style="top:290.86px;font-size:7.70px;line-height:7.70px;font-weight:bold;left:436.99px;">5,5</span>
<span style="top:290.86px;font-size:7.70px;line-height:7.70px;font-weight:bold;left:475.29px;">3,7</span>
<span style="top:290.86px;font-size:7.70px;line-height:7.70px;font-weight:bold;left:521.42px;">0</span>
<span style="top:290.86px;font-size:7.70px;line-height:7.70px;font-weight:bold;left:559.72px;">0</span>
<span style="top:290.86px;font-size:7.70px;line-height:7.70px;font-weight:bold;left:599.42px;">0</span>
<span style="top:290.86px;font-size:7.70px;line-height:7.70px;font-weight:bold;left:637.72px;">0</span>
<span style="top:290.86px;font-size:7.70px;line-height:7.70px;font-weight:bold;left:677.42px;">0</span>
<span style="top:290.86px;font-size:7.70px;line-height:7.70px;font-weight:bold;left:719.72px;">0</span>
<span style="top:290.86px;font-size:7.70px;line-height:7.70px;font-weight:bold;left:764.42px;">0</span>
<span style="top:290.86px;font-size:7.70px;line-height:7.70px;font-weight:bold;left:802.72px;">0</span>
<span style="top:290.86px;font-size:7.70px;line-height:7.70px;font-weight:bold;left:842.42px;">0</span>
<span style="top:290.86px;font-size:7.70px;line-height:7.70px;font-weight:bold;left:880.72px;">0</span>
<span style="top:290.86px;font-size:7.70px;line-height:7.70px;font-weight:bold;left:913.99px;">3,9</span>
<span style="top:290.86px;font-size:7.70px;line-height:7.70px;font-weight:bold;left:959.72px;">0</span>
<span style="top:290.86px;font-size:7.70px;line-height:7.70px;font-weight:bold;left:988.71px;">10,9</span>
<span style="top:290.86px;font-size:7.70px;line-height:7.70px;font-weight:bold;left:1027.01px;">10,9</span>
<span style="top:290.86px;font-size:7.70px;line-height:7.70px;font-weight:bold;left:1066.71px;">15,3</span>
<span style="top:290.86px;font-size:7.70px;line-height:7.70px;font-weight:bold;left:1105.01px;">15,3</span>
<span style="top:301.49px;font-size:7.70px;line-height:7.70px;font-weight:bold;left:128.22px;">18</span>
<span style="top:301.49px;font-size:7.70px;line-height:7.70px;font-weight:bold;left:197.71px;">15,1</span>
<span style="top:301.49px;font-size:7.70px;line-height:7.70px;font-weight:bold;left:237.01px;">15,1</span>
<span style="top:301.49px;font-size:7.70px;line-height:7.70px;font-weight:bold;left:276.71px;">14,2</span>
<span style="top:301.49px;font-size:7.70px;line-height:7.70px;font-weight:bold;left:315.01px;">13,6</span>
<span style="top:301.49px;font-size:7.70px;line-height:7.70px;font-weight:bold;left:354.71px;">18,4</span>
<span style="top:301.49px;font-size:7.70px;line-height:7.70px;font-weight:bold;left:393.01px;">10,4</span>
<span style="top:301.49px;font-size:7.70px;line-height:7.70px;font-weight:bold;left:436.99px;">2,5</span>
<span style="top:301.49px;font-size:7.70px;line-height:7.70px;font-weight:bold;left:481.72px;">0</span>
<span style="top:301.49px;font-size:7.70px;line-height:7.70px;font-weight:bold;left:514.99px;">1,5</span>
<span style="top:301.49px;font-size:7.70px;line-height:7.70px;font-weight:bold;left:559.72px;">0</span>
<span style="top:301.49px;font-size:7.70px;line-height:7.70px;font-weight:bold;left:592.99px;">0,1</span>
<span style="top:301.49px;font-size:7.70px;line-height:7.70px;font-weight:bold;left:637.72px;">0</span>
<span style="top:301.49px;font-size:7.70px;line-height:7.70px;font-weight:bold;left:677.42px;">0</span>
<span style="top:301.49px;font-size:7.70px;line-height:7.70px;font-weight:bold;left:719.72px;">0</span>
<span style="top:301.49px;font-size:7.70px;line-height:7.70px;font-weight:bold;left:764.42px;">0</span>
<span style="top:301.49px;font-size:7.70px;line-height:7.70px;font-weight:bold;left:802.72px;">0</span>
<span style="top:301.49px;font-size:7.70px;line-height:7.70px;font-weight:bold;left:842.42px;">0</span>
<span style="top:301.49px;font-size:7.70px;line-height:7.70px;font-weight:bold;left:880.72px;">0</span>
<span style="top:301.49px;font-size:7.70px;line-height:7.70px;font-weight:bold;left:913.99px;">5,2</span>
<span style="top:301.49px;font-size:7.70px;line-height:7.70px;font-weight:bold;left:953.29px;">1,3</span>
<span style="top:301.49px;font-size:7.70px;line-height:7.70px;font-weight:bold;left:989.13px;">11,2</span>
<span style="top:301.49px;font-size:7.70px;line-height:7.70px;font-weight:bold;left:1031.29px;">9,9</span>
<span style="top:301.49px;font-size:7.70px;line-height:7.70px;font-weight:bold;left:1066.71px;">13,5</span>
<span style="top:301.49px;font-size:7.70px;line-height:7.70px;font-weight:bold;left:1105.01px;">13,5</span>
<span style="top:312.12px;font-size:7.70px;line-height:7.70px;font-weight:bold;left:128.22px;">19</span>
<span style="top:312.12px;font-size:7.70px;line-height:7.70px;font-weight:bold;left:197.71px;">15,3</span>
<span style="top:312.12px;font-size:7.70px;line-height:7.70px;font-weight:bold;left:237.01px;">15,3</span>
<span style="top:312.12px;font-size:7.70px;line-height:7.70px;font-weight:bold;left:283.13px;">15</span>
<span style="top:312.12px;font-size:7.70px;line-height:7.70px;font-weight:bold;left:315.01px;">13,1</span>
<span style="top:312.12px;font-size:7.70px;line-height:7.70px;font-weight:bold;left:361.13px;">17</span>
<span style="top:312.12px;font-size:7.70px;line-height:7.70px;font-weight:bold;left:397.29px;">8,9</span>
<span style="top:312.12px;font-size:7.70px;line-height:7.70px;font-weight:bold;left:436.99px;">2,4</span>
<span style="top:312.12px;font-size:7.70px;line-height:7.70px;font-weight:bold;left:481.72px;">0</span>
<span style="top:312.12px;font-size:7.70px;line-height:7.70px;font-weight:bold;left:514.99px;">1,8</span>
<span style="top:312.12px;font-size:7.70px;line-height:7.70px;font-weight:bold;left:559.72px;">0</span>
<span style="top:312.12px;font-size:7.70px;line-height:7.70px;font-weight:bold;left:599.42px;">0</span>
<span style="top:312.12px;font-size:7.70px;line-height:7.70px;font-weight:bold;left:637.72px;">0</span>
<span style="top:312.12px;font-size:7.70px;line-height:7.70px;font-weight:bold;left:677.42px;">0</span>
<span style="top:312.12px;font-size:7.70px;line-height:7.70px;font-weight:bold;left:719.72px;">0</span>
<span style="top:312.12px;font-size:7.70px;line-height:7.70px;font-weight:bold;left:764.42px;">0</span>
<span style="top:312.12px;font-size:7.70px;line-height:7.70px;font-weight:bold;left:802.72px;">0</span>
<span style="top:312.12px;font-size:7.70px;line-height:7.70px;font-weight:bold;left:842.42px;">0</span>
<span style="top:312.12px;font-size:7.70px;line-height:7.70px;font-weight:bold;left:880.72px;">0</span>
<span style="top:312.12px;font-size:7.70px;line-height:7.70px;font-weight:bold;left:913.99px;">8,1</span>
<span style="top:312.12px;font-size:7.70px;line-height:7.70px;font-weight:bold;left:953.29px;">4,5</span>
<span style="top:312.12px;font-size:7.70px;line-height:7.70px;font-weight:bold;left:989.13px;">11,9</span>
<span style="top:312.12px;font-size:7.70px;line-height:7.70px;font-weight:bold;left:1031.29px;">9,3</span>
<span style="top:312.12px;font-size:7.70px;line-height:7.70px;font-weight:bold;left:1066.71px;">13,2</span>
<span style="top:312.12px;font-size:7.70px;line-height:7.70px;font-weight:bold;left:1105.01px;">13,2</span>
<span style="top:322.75px;font-size:7.70px;line-height:7.70px;font-weight:bold;left:128.22px;">20</span>
<span style="top:322.75px;font-size:7.70px;line-height:7.70px;font-weight:bold;left:197.71px;">14,7</span>
<span style="top:322.75px;font-size:7.70px;line-height:7.70px;font-weight:bold;left:237.01px;">14,7</span>
<span style="top:322.75px;font-size:7.70px;line-height:7.70px;font-weight:bold;left:276.71px;">15,2</span>
<span style="top:322.75px;font-size:7.70px;line-height:7.70px;font-weight:bold;left:315.01px;">14,4</span>
<span style="top:322.75px;font-size:7.70px;line-height:7.70px;font-weight:bold;left:354.71px;">15,7</span>
<span style="top:322.75px;font-size:7.70px;line-height:7.70px;font-weight:bold;left:397.29px;">7,2</span>
<span style="top:322.75px;font-size:7.70px;line-height:7.70px;font-weight:bold;left:436.99px;">0,5</span>
<span style="top:322.75px;font-size:7.70px;line-height:7.70px;font-weight:bold;left:481.72px;">0</span>
<span style="top:322.75px;font-size:7.70px;line-height:7.70px;font-weight:bold;left:514.99px;">1,2</span>
<span style="top:322.75px;font-size:7.70px;line-height:7.70px;font-weight:bold;left:559.72px;">0</span>
<span style="top:322.75px;font-size:7.70px;line-height:7.70px;font-weight:bold;left:599.42px;">0</span>
<span style="top:322.75px;font-size:7.70px;line-height:7.70px;font-weight:bold;left:637.72px;">0</span>
<span style="top:322.75px;font-size:7.70px;line-height:7.70px;font-weight:bold;left:677.42px;">0</span>
<span style="top:322.75px;font-size:7.70px;line-height:7.70px;font-weight:bold;left:719.72px;">0</span>
<span style="top:322.75px;font-size:7.70px;line-height:7.70px;font-weight:bold;left:764.42px;">0</span>
<span style="top:322.75px;font-size:7.70px;line-height:7.70px;font-weight:bold;left:802.72px;">0</span>
<span style="top:322.75px;font-size:7.70px;line-height:7.70px;font-weight:bold;left:842.42px;">0</span>
<span style="top:322.75px;font-size:7.70px;line-height:7.70px;font-weight:bold;left:880.72px;">0</span>
<span style="top:322.75px;font-size:7.70px;line-height:7.70px;font-weight:bold;left:913.99px;">6,9</span>
<span style="top:322.75px;font-size:7.70px;line-height:7.70px;font-weight:bold;left:959.72px;">6</span>
<span style="top:322.75px;font-size:7.70px;line-height:7.70px;font-weight:bold;left:988.71px;">12,1</span>
<span style="top:322.75px;font-size:7.70px;line-height:7.70px;font-weight:bold;left:1027.01px;">10,4</span>
<span style="top:322.75px;font-size:7.70px;line-height:7.70px;font-weight:bold;left:1066.71px;">12,6</span>
<span style="top:322.75px;font-size:7.70px;line-height:7.70px;font-weight:bold;left:1105.01px;">12,6</span>
<span style="top:333.38px;font-size:7.70px;line-height:7.70px;font-weight:bold;left:128.22px;">21</span>
<span style="top:333.38px;font-size:7.70px;line-height:7.70px;font-weight:bold;left:197.71px;">15,8</span>
<span style="top:333.38px;font-size:7.70px;line-height:7.70px;font-weight:bold;left:237.01px;">15,8</span>
<span style="top:333.38px;font-size:7.70px;line-height:7.70px;font-weight:bold;left:276.71px;">15,2</span>
<span style="top:333.38px;font-size:7.70px;line-height:7.70px;font-weight:bold;left:315.01px;">14,3</span>
<span style="top:333.38px;font-size:7.70px;line-height:7.70px;font-weight:bold;left:354.71px;">15,1</span>
<span style="top:333.38px;font-size:7.70px;line-height:7.70px;font-weight:bold;left:393.01px;">15,3</span>
<span style="top:333.38px;font-size:7.70px;line-height:7.70px;font-weight:bold;left:436.99px;">4,2</span>
<span style="top:333.38px;font-size:7.70px;line-height:7.70px;font-weight:bold;left:481.72px;">0</span>
<span style="top:333.38px;font-size:7.70px;line-height:7.70px;font-weight:bold;left:514.99px;">1,3</span>
<span style="top:333.38px;font-size:7.70px;line-height:7.70px;font-weight:bold;left:559.72px;">0</span>
<span style="top:333.38px;font-size:7.70px;line-height:7.70px;font-weight:bold;left:592.99px;">1,8</span>
<span style="top:333.38px;font-size:7.70px;line-height:7.70px;font-weight:bold;left:631.29px;">0,6</span>
<span style="top:333.38px;font-size:7.70px;line-height:7.70px;font-weight:bold;left:677.42px;">0</span>
<span style="top:333.38px;font-size:7.70px;line-height:7.70px;font-weight:bold;left:719.72px;">0</span>
<span style="top:333.38px;font-size:7.70px;line-height:7.70px;font-weight:bold;left:757.99px;">0,3</span>
<span style="top:333.38px;font-size:7.70px;line-height:7.70px;font-weight:bold;left:802.72px;">0</span>
<span style="top:333.38px;font-size:7.70px;line-height:7.70px;font-weight:bold;left:835.99px;">0,1</span>
<span style="top:333.38px;font-size:7.70px;line-height:7.70px;font-weight:bold;left:880.72px;">0</span>
<span style="top:333.38px;font-size:7.70px;line-height:7.70px;font-weight:bold;left:920.42px;">6</span>
<span style="top:333.38px;font-size:7.70px;line-height:7.70px;font-weight:bold;left:953.29px;">3,4</span>
<span style="top:333.38px;font-size:7.70px;line-height:7.70px;font-weight:bold;left:989.13px;">11,7</span>
<span style="top:333.38px;font-size:7.70px;line-height:7.70px;font-weight:bold;left:1027.43px;">11,7</span>
<span style="top:333.38px;font-size:7.70px;line-height:7.70px;font-weight:bold;left:1066.71px;">12,1</span>
<span style="top:333.38px;font-size:7.70px;line-height:7.70px;font-weight:bold;left:1105.01px;">12,1</span>
<span style="top:344.01px;font-size:7.70px;line-height:7.70px;font-weight:bold;left:128.22px;">22</span>
<span style="top:344.01px;font-size:7.70px;line-height:7.70px;font-weight:bold;left:197.71px;">15,8</span>
<span style="top:344.01px;font-size:7.70px;line-height:7.70px;font-weight:bold;left:237.01px;">15,8</span>
<span style="top:344.01px;font-size:7.70px;line-height:7.70px;font-weight:bold;left:276.71px;">17,2</span>
<span style="top:344.01px;font-size:7.70px;line-height:7.70px;font-weight:bold;left:315.43px;">11,5</span>
<span style="top:344.01px;font-size:7.70px;line-height:7.70px;font-weight:bold;left:354.71px;">15,3</span>
<span style="top:344.01px;font-size:7.70px;line-height:7.70px;font-weight:bold;left:393.01px;">15,3</span>
<span style="top:344.01px;font-size:7.70px;line-height:7.70px;font-weight:bold;left:436.99px;">7,4</span>
<span style="top:344.01px;font-size:7.70px;line-height:7.70px;font-weight:bold;left:481.72px;">0</span>
<span style="top:344.01px;font-size:7.70px;line-height:7.70px;font-weight:bold;left:514.99px;">0,2</span>
<span style="top:344.01px;font-size:7.70px;line-height:7.70px;font-weight:bold;left:559.72px;">0</span>
<span style="top:344.01px;font-size:7.70px;line-height:7.70px;font-weight:bold;left:592.99px;">2,8</span>
<span style="top:344.01px;font-size:7.70px;line-height:7.70px;font-weight:bold;left:637.72px;">0</span>
<span style="top:344.01px;font-size:7.70px;line-height:7.70px;font-weight:bold;left:677.42px;">0</span>
<span style="top:344.01px;font-size:7.70px;line-height:7.70px;font-weight:bold;left:719.72px;">0</span>
<span style="top:344.01px;font-size:7.70px;line-height:7.70px;font-weight:bold;left:764.42px;">0</span>
<span style="top:344.01px;font-size:7.70px;line-height:7.70px;font-weight:bold;left:802.72px;">0</span>
<span style="top:344.01px;font-size:7.70px;line-height:7.70px;font-weight:bold;left:835.99px;">4,9</span>
<span style="top:344.01px;font-size:7.70px;line-height:7.70px;font-weight:bold;left:880.72px;">0</span>
<span style="top:344.01px;font-size:7.70px;line-height:7.70px;font-weight:bold;left:913.99px;">6,4</span>
<span style="top:344.01px;font-size:7.70px;line-height:7.70px;font-weight:bold;left:953.29px;">2,4</span>
<span style="top:344.01px;font-size:7.70px;line-height:7.70px;font-weight:bold;left:989.13px;">11,9</span>
<span style="top:344.01px;font-size:7.70px;line-height:7.70px;font-weight:bold;left:1027.43px;">11,9</span>
<span style="top:344.01px;font-size:7.70px;line-height:7.70px;font-weight:bold;left:1066.71px;">15,8</span>
<span style="top:344.01px;font-size:7.70px;line-height:7.70px;font-weight:bold;left:1105.01px;">15,8</span>
<span style="top:354.64px;font-size:7.70px;line-height:7.70px;font-weight:bold;left:128.22px;">23</span>
<span style="top:354.64px;font-size:7.70px;line-height:7.70px;font-weight:bold;left:197.71px;">14,8</span>
<span style="top:354.64px;font-size:7.70px;line-height:7.70px;font-weight:bold;left:237.01px;">14,8</span>
<span style="top:354.64px;font-size:7.70px;line-height:7.70px;font-weight:bold;left:276.71px;">17,9</span>
<span style="top:354.64px;font-size:7.70px;line-height:7.70px;font-weight:bold;left:315.01px;">16,3</span>
<span style="top:354.64px;font-size:7.70px;line-height:7.70px;font-weight:bold;left:354.71px;">15,8</span>
<span style="top:354.64px;font-size:7.70px;line-height:7.70px;font-weight:bold;left:393.01px;">15,8</span>
<span style="top:354.64px;font-size:7.70px;line-height:7.70px;font-weight:bold;left:436.99px;">4,8</span>
<span style="top:354.64px;font-size:7.70px;line-height:7.70px;font-weight:bold;left:475.29px;">1,2</span>
<span style="top:354.64px;font-size:7.70px;line-height:7.70px;font-weight:bold;left:521.42px;">0</span>
<span style="top:354.64px;font-size:7.70px;line-height:7.70px;font-weight:bold;left:559.72px;">0</span>
<span style="top:354.64px;font-size:7.70px;line-height:7.70px;font-weight:bold;left:592.99px;">1,3</span>
<span style="top:354.64px;font-size:7.70px;line-height:7.70px;font-weight:bold;left:637.72px;">0</span>
<span style="top:354.64px;font-size:7.70px;line-height:7.70px;font-weight:bold;left:677.42px;">0</span>
<span style="top:354.64px;font-size:7.70px;line-height:7.70px;font-weight:bold;left:719.72px;">0</span>
<span style="top:354.64px;font-size:7.70px;line-height:7.70px;font-weight:bold;left:764.42px;">0</span>
<span style="top:354.64px;font-size:7.70px;line-height:7.70px;font-weight:bold;left:802.72px;">0</span>
<span style="top:354.64px;font-size:7.70px;line-height:7.70px;font-weight:bold;left:835.99px;">5,5</span>
<span style="top:354.64px;font-size:7.70px;line-height:7.70px;font-weight:bold;left:874.29px;">1,9</span>
<span style="top:354.64px;font-size:7.70px;line-height:7.70px;font-weight:bold;left:913.99px;">6,3</span>
<span style="top:354.64px;font-size:7.70px;line-height:7.70px;font-weight:bold;left:953.29px;">6,1</span>
<span style="top:354.64px;font-size:7.70px;line-height:7.70px;font-weight:bold;left:988.71px;">13,8</span>
<span style="top:354.64px;font-size:7.70px;line-height:7.70px;font-weight:bold;left:1027.01px;">13,8</span>
<span style="top:354.64px;font-size:7.70px;line-height:7.70px;font-weight:bold;left:1066.71px;">16,6</span>
<span style="top:354.64px;font-size:7.70px;line-height:7.70px;font-weight:bold;left:1105.01px;">16,6</span>
<span style="top:365.27px;font-size:7.70px;line-height:7.70px;font-weight:bold;left:128.22px;">24</span>
<span style="top:365.27px;font-size:7.70px;line-height:7.70px;font-weight:bold;left:201.99px;">9,2</span>
<span style="top:365.27px;font-size:7.70px;line-height:7.70px;font-weight:bold;left:241.29px;">9,2</span>
<span style="top:365.27px;font-size:7.70px;line-height:7.70px;font-weight:bold;left:276.71px;">18,8</span>
<span style="top:365.27px;font-size:7.70px;line-height:7.70px;font-weight:bold;left:315.01px;">13,6</span>
<span style="top:365.27px;font-size:7.70px;line-height:7.70px;font-weight:bold;left:354.71px;">14,6</span>
<span style="top:365.27px;font-size:7.70px;line-height:7.70px;font-weight:bold;left:393.01px;">14,6</span>
<span style="top:365.27px;font-size:7.70px;line-height:7.70px;font-weight:bold;left:436.99px;">6,7</span>
<span style="top:365.27px;font-size:7.70px;line-height:7.70px;font-weight:bold;left:475.29px;">5,5</span>
<span style="top:365.27px;font-size:7.70px;line-height:7.70px;font-weight:bold;left:521.42px;">0</span>
<span style="top:365.27px;font-size:7.70px;line-height:7.70px;font-weight:bold;left:559.72px;">0</span>
<span style="top:365.27px;font-size:7.70px;line-height:7.70px;font-weight:bold;left:592.99px;">0,3</span>
<span style="top:365.27px;font-size:7.70px;line-height:7.70px;font-weight:bold;left:637.72px;">0</span>
<span style="top:365.27px;font-size:7.70px;line-height:7.70px;font-weight:bold;left:677.42px;">0</span>
<span style="top:365.27px;font-size:7.70px;line-height:7.70px;font-weight:bold;left:719.72px;">0</span>
<span style="top:365.27px;font-size:7.70px;line-height:7.70px;font-weight:bold;left:764.42px;">0</span>
<span style="top:365.27px;font-size:7.70px;line-height:7.70px;font-weight:bold;left:802.72px;">0</span>
<span style="top:365.27px;font-size:7.70px;line-height:7.70px;font-weight:bold;left:835.99px;">8,2</span>
<span style="top:365.27px;font-size:7.70px;line-height:7.70px;font-weight:bold;left:874.29px;">6,8</span>
<span style="top:365.27px;font-size:7.70px;line-height:7.70px;font-weight:bold;left:913.99px;">8,8</span>
<span style="top:365.27px;font-size:7.70px;line-height:7.70px;font-weight:bold;left:953.29px;">3,7</span>
<span style="top:365.27px;font-size:7.70px;line-height:7.70px;font-weight:bold;left:988.71px;">13,6</span>
<span style="top:365.27px;font-size:7.70px;line-height:7.70px;font-weight:bold;left:1027.01px;">13,6</span>
<span style="top:365.27px;font-size:7.70px;line-height:7.70px;font-weight:bold;left:1066.71px;">17,1</span>
<span style="top:365.27px;font-size:7.70px;line-height:7.70px;font-weight:bold;left:1105.01px;">16,9</span>
<span style="top:375.90px;font-size:7.70px;line-height:7.70px;font-weight:bold;left:128.22px;">25</span>
<span style="top:375.90px;font-size:7.70px;line-height:7.70px;font-weight:bold;left:197.71px;">10,4</span>
<span style="top:375.90px;font-size:7.70px;line-height:7.70px;font-weight:bold;left:237.01px;">10,4</span>
<span style="top:375.90px;font-size:7.70px;line-height:7.70px;font-weight:bold;left:276.71px;">20,7</span>
<span style="top:375.90px;font-size:7.70px;line-height:7.70px;font-weight:bold;left:315.01px;">17,7</span>
<span style="top:375.90px;font-size:7.70px;line-height:7.70px;font-weight:bold;left:355.13px;">11,4</span>
<span style="top:375.90px;font-size:7.70px;line-height:7.70px;font-weight:bold;left:399.43px;">10</span>
<span style="top:375.90px;font-size:7.70px;line-height:7.70px;font-weight:bold;left:436.99px;">8,5</span>
<span style="top:375.90px;font-size:7.70px;line-height:7.70px;font-weight:bold;left:475.29px;">6,2</span>
<span style="top:375.90px;font-size:7.70px;line-height:7.70px;font-weight:bold;left:521.42px;">0</span>
<span style="top:375.90px;font-size:7.70px;line-height:7.70px;font-weight:bold;left:559.72px;">0</span>
<span style="top:375.90px;font-size:7.70px;line-height:7.70px;font-weight:bold;left:599.42px;">0</span>
<span style="top:375.90px;font-size:7.70px;line-height:7.70px;font-weight:bold;left:637.72px;">0</span>
<span style="top:375.90px;font-size:7.70px;line-height:7.70px;font-weight:bold;left:677.42px;">0</span>
<span style="top:375.90px;font-size:7.70px;line-height:7.70px;font-weight:bold;left:719.72px;">0</span>
<span style="top:375.90px;font-size:7.70px;line-height:7.70px;font-weight:bold;left:757.99px;">2,8</span>
<span style="top:375.90px;font-size:7.70px;line-height:7.70px;font-weight:bold;left:796.29px;">1,2</span>
<span style="top:375.90px;font-size:7.70px;line-height:7.70px;font-weight:bold;left:835.99px;">6,9</span>
<span style="top:375.90px;font-size:7.70px;line-height:7.70px;font-weight:bold;left:874.29px;">0,4</span>
<span style="top:375.90px;font-size:7.70px;line-height:7.70px;font-weight:bold;left:913.99px;">6,3</span>
<span style="top:375.90px;font-size:7.70px;line-height:7.70px;font-weight:bold;left:953.29px;">5,2</span>
<span style="top:375.90px;font-size:7.70px;line-height:7.70px;font-weight:bold;left:988.71px;">14,1</span>
<span style="top:375.90px;font-size:7.70px;line-height:7.70px;font-weight:bold;left:1027.01px;">14,1</span>
<span style="top:375.90px;font-size:7.70px;line-height:7.70px;font-weight:bold;left:1067.13px;">11,5</span>
<span style="top:375.90px;font-size:7.70px;line-height:7.70px;font-weight:bold;left:1105.01px;">10,8</span>
<span style="top:386.53px;font-size:7.70px;line-height:7.70px;font-weight:bold;left:128.22px;">26</span>
<span style="top:386.53px;font-size:7.70px;line-height:7.70px;font-weight:bold;left:197.71px;">12,4</span>
<span style="top:386.53px;font-size:7.70px;line-height:7.70px;font-weight:bold;left:237.01px;">12,4</span>
<span style="top:386.53px;font-size:7.70px;line-height:7.70px;font-weight:bold;left:276.71px;">20,5</span>
<span style="top:386.53px;font-size:7.70px;line-height:7.70px;font-weight:bold;left:315.01px;">15,8</span>
<span style="top:386.53px;font-size:7.70px;line-height:7.70px;font-weight:bold;left:354.71px;">12,5</span>
<span style="top:386.53px;font-size:7.70px;line-height:7.70px;font-weight:bold;left:393.01px;">12,5</span>
<span style="top:386.53px;font-size:7.70px;line-height:7.70px;font-weight:bold;left:436.99px;">8,2</span>
<span style="top:386.53px;font-size:7.70px;line-height:7.70px;font-weight:bold;left:475.29px;">7,1</span>
<span style="top:386.53px;font-size:7.70px;line-height:7.70px;font-weight:bold;left:521.42px;">0</span>
<span style="top:386.53px;font-size:7.70px;line-height:7.70px;font-weight:bold;left:559.72px;">0</span>
<span style="top:386.53px;font-size:7.70px;line-height:7.70px;font-weight:bold;left:599.42px;">0</span>
<span style="top:386.53px;font-size:7.70px;line-height:7.70px;font-weight:bold;left:637.72px;">0</span>
<span style="top:386.53px;font-size:7.70px;line-height:7.70px;font-weight:bold;left:677.42px;">0</span>
<span style="top:386.53px;font-size:7.70px;line-height:7.70px;font-weight:bold;left:719.72px;">0</span>
<span style="top:386.53px;font-size:7.70px;line-height:7.70px;font-weight:bold;left:757.99px;">2,3</span>
<span style="top:386.53px;font-size:7.70px;line-height:7.70px;font-weight:bold;left:802.72px;">0</span>
<span style="top:386.53px;font-size:7.70px;line-height:7.70px;font-weight:bold;left:835.99px;">3,5</span>
<span style="top:386.53px;font-size:7.70px;line-height:7.70px;font-weight:bold;left:874.29px;">3,5</span>
<span style="top:386.53px;font-size:7.70px;line-height:7.70px;font-weight:bold;left:913.99px;">8,3</span>
<span style="top:386.53px;font-size:7.70px;line-height:7.70px;font-weight:bold;left:953.29px;">8,3</span>
<span style="top:386.53px;font-size:7.70px;line-height:7.70px;font-weight:bold;left:988.71px;">16,8</span>
<span style="top:386.53px;font-size:7.70px;line-height:7.70px;font-weight:bold;left:1027.01px;">13,1</span>
<span style="top:386.53px;font-size:7.70px;line-height:7.70px;font-weight:bold;left:1066.71px;">10,4</span>
<span style="top:386.53px;font-size:7.70px;line-height:7.70px;font-weight:bold;left:1109.29px;">8,8</span>
<span style="top:397.16px;font-size:7.70px;line-height:7.70px;font-weight:bold;left:128.22px;">27</span>
<span style="top:397.16px;font-size:7.70px;line-height:7.70px;font-weight:bold;left:197.71px;">12,2</span>
<span style="top:397.16px;font-size:7.70px;line-height:7.70px;font-weight:bold;left:237.43px;">11,5</span>
<span style="top:397.16px;font-size:7.70px;line-height:7.70px;font-weight:bold;left:276.71px;">22,7</span>
<span style="top:397.16px;font-size:7.70px;line-height:7.70px;font-weight:bold;left:315.01px;">19,9</span>
<span style="top:397.16px;font-size:7.70px;line-height:7.70px;font-weight:bold;left:361.13px;">15</span>
<span style="top:397.16px;font-size:7.70px;line-height:7.70px;font-weight:bold;left:399.43px;">15</span>
<span style="top:397.16px;font-size:7.70px;line-height:7.70px;font-weight:bold;left:436.99px;">6,4</span>
<span style="top:397.16px;font-size:7.70px;line-height:7.70px;font-weight:bold;left:475.29px;">4,6</span>
<span style="top:397.16px;font-size:7.70px;line-height:7.70px;font-weight:bold;left:521.42px;">0</span>
<span style="top:397.16px;font-size:7.70px;line-height:7.70px;font-weight:bold;left:559.72px;">0</span>
<span style="top:397.16px;font-size:7.70px;line-height:7.70px;font-weight:bold;left:599.42px;">0</span>
<span style="top:397.16px;font-size:7.70px;line-height:7.70px;font-weight:bold;left:637.72px;">0</span>
<span style="top:397.16px;font-size:7.70px;line-height:7.70px;font-weight:bold;left:677.42px;">0</span>
<span style="top:397.16px;font-size:7.70px;line-height:7.70px;font-weight:bold;left:719.72px;">0</span>
<span style="top:397.16px;font-size:7.70px;line-height:7.70px;font-weight:bold;left:757.99px;">1,6</span>
<span style="top:397.16px;font-size:7.70px;line-height:7.70px;font-weight:bold;left:796.29px;">1,5</span>
<span style="top:397.16px;font-size:7.70px;line-height:7.70px;font-weight:bold;left:835.99px;">1,1</span>
<span style="top:397.16px;font-size:7.70px;line-height:7.70px;font-weight:bold;left:880.72px;">0</span>
<span style="top:397.16px;font-size:7.70px;line-height:7.70px;font-weight:bold;left:910.13px;">11,7</span>
<span style="top:397.16px;font-size:7.70px;line-height:7.70px;font-weight:bold;left:949.43px;">11,7</span>
<span style="top:397.16px;font-size:7.70px;line-height:7.70px;font-weight:bold;left:988.71px;">17,4</span>
<span style="top:397.16px;font-size:7.70px;line-height:7.70px;font-weight:bold;left:1027.01px;">13,3</span>
<span style="top:397.16px;font-size:7.70px;line-height:7.70px;font-weight:bold;left:1070.99px;">9,1</span>
<span style="top:397.16px;font-size:7.70px;line-height:7.70px;font-weight:bold;left:1109.29px;">9,1</span>
<span style="top:407.79px;font-size:7.70px;line-height:7.70px;font-weight:bold;left:128.22px;">28</span>
<span style="top:407.79px;font-size:7.70px;line-height:7.70px;font-weight:bold;left:197.71px;">10,5</span>
<span style="top:407.79px;font-size:7.70px;line-height:7.70px;font-weight:bold;left:237.01px;">10,5</span>
<span style="top:407.79px;font-size:7.70px;line-height:7.70px;font-weight:bold;left:283.13px;">24</span>
<span style="top:407.79px;font-size:7.70px;line-height:7.70px;font-weight:bold;left:315.01px;">18,9</span>
<span style="top:407.79px;font-size:7.70px;line-height:7.70px;font-weight:bold;left:354.71px;">17,3</span>
<span style="top:407.79px;font-size:7.70px;line-height:7.70px;font-weight:bold;left:393.01px;">15,9</span>
<span style="top:407.79px;font-size:7.70px;line-height:7.70px;font-weight:bold;left:436.99px;">5,7</span>
<span style="top:407.79px;font-size:7.70px;line-height:7.70px;font-weight:bold;left:475.29px;">0,6</span>
<span style="top:407.79px;font-size:7.70px;line-height:7.70px;font-weight:bold;left:521.42px;">0</span>
<span style="top:407.79px;font-size:7.70px;line-height:7.70px;font-weight:bold;left:559.72px;">0</span>
<span style="top:407.79px;font-size:7.70px;line-height:7.70px;font-weight:bold;left:599.42px;">0</span>
<span style="top:407.79px;font-size:7.70px;line-height:7.70px;font-weight:bold;left:637.72px;">0</span>
<span style="top:407.79px;font-size:7.70px;line-height:7.70px;font-weight:bold;left:677.42px;">0</span>
<span style="top:407.79px;font-size:7.70px;line-height:7.70px;font-weight:bold;left:719.72px;">0</span>
<span style="top:407.79px;font-size:7.70px;line-height:7.70px;font-weight:bold;left:757.99px;">0,8</span>
<span style="top:407.79px;font-size:7.70px;line-height:7.70px;font-weight:bold;left:796.29px;">0,8</span>
<span style="top:407.79px;font-size:7.70px;line-height:7.70px;font-weight:bold;left:835.99px;">5,4</span>
<span style="top:407.79px;font-size:7.70px;line-height:7.70px;font-weight:bold;left:880.72px;">0</span>
<span style="top:407.79px;font-size:7.70px;line-height:7.70px;font-weight:bold;left:909.71px;">13,9</span>
<span style="top:407.79px;font-size:7.70px;line-height:7.70px;font-weight:bold;left:949.01px;">13,9</span>
<span style="top:407.79px;font-size:7.70px;line-height:7.70px;font-weight:bold;left:988.71px;">14,6</span>
<span style="top:407.79px;font-size:7.70px;line-height:7.70px;font-weight:bold;left:1027.01px;">14,2</span>
<span style="top:407.79px;font-size:7.70px;line-height:7.70px;font-weight:bold;left:1066.71px;">10,7</span>
<span style="top:407.79px;font-size:7.70px;line-height:7.70px;font-weight:bold;left:1105.01px;">10,7</span>
<span style="top:418.42px;font-size:7.70px;line-height:7.70px;font-weight:bold;left:128.22px;">29</span>
<span style="top:418.42px;font-size:7.70px;line-height:7.70px;font-weight:bold;left:197.71px;">10,1</span>
<span style="top:418.42px;font-size:7.70px;line-height:7.70px;font-weight:bold;left:237.01px;">10,1</span>
<span style="top:418.42px;font-size:7.70px;line-height:7.70px;font-weight:bold;left:354.71px;">16,1</span>
<span style="top:418.42px;font-size:7.70px;line-height:7.70px;font-weight:bold;left:393.01px;">16,1</span>
<span style="top:418.42px;font-size:7.70px;line-height:7.70px;font-weight:bold;left:436.99px;">5,4</span>
<span style="top:418.42px;font-size:7.70px;line-height:7.70px;font-weight:bold;left:481.72px;">0</span>
<span style="top:418.42px;font-size:7.70px;line-height:7.70px;font-weight:bold;left:521.42px;">0</span>
<span style="top:418.42px;font-size:7.70px;line-height:7.70px;font-weight:bold;left:559.72px;">0</span>
<span style="top:418.42px;font-size:7.70px;line-height:7.70px;font-weight:bold;left:599.42px;">0</span>
<span style="top:418.42px;font-size:7.70px;line-height:7.70px;font-weight:bold;left:637.72px;">0</span>
<span style="top:418.42px;font-size:7.70px;line-height:7.70px;font-weight:bold;left:677.42px;">0</span>
<span style="top:418.42px;font-size:7.70px;line-height:7.70px;font-weight:bold;left:719.72px;">0</span>
<span style="top:418.42px;font-size:7.70px;line-height:7.70px;font-weight:bold;left:764.42px;">0</span>
<span style="top:418.42px;font-size:7.70px;line-height:7.70px;font-weight:bold;left:802.72px;">0</span>
<span style="top:418.42px;font-size:7.70px;line-height:7.70px;font-weight:bold;left:835.99px;">6,8</span>
<span style="top:418.42px;font-size:7.70px;line-height:7.70px;font-weight:bold;left:874.29px;">5,4</span>
<span style="top:418.42px;font-size:7.70px;line-height:7.70px;font-weight:bold;left:909.71px;">12,1</span>
<span style="top:418.42px;font-size:7.70px;line-height:7.70px;font-weight:bold;left:949.43px;">11,3</span>
<span style="top:418.42px;font-size:7.70px;line-height:7.70px;font-weight:bold;left:995.13px;">14</span>
<span style="top:418.42px;font-size:7.70px;line-height:7.70px;font-weight:bold;left:1033.43px;">14</span>
<span style="top:418.42px;font-size:7.70px;line-height:7.70px;font-weight:bold;left:1070.99px;">9,9</span>
<span style="top:418.42px;font-size:7.70px;line-height:7.70px;font-weight:bold;left:1109.29px;">9,9</span>
<span style="top:429.05px;font-size:7.70px;line-height:7.70px;font-weight:bold;left:128.22px;">30</span>
<span style="top:429.05px;font-size:7.70px;line-height:7.70px;font-weight:bold;left:197.71px;">12,1</span>
<span style="top:429.05px;font-size:7.70px;line-height:7.70px;font-weight:bold;left:241.29px;">9,9</span>
<span style="top:429.05px;font-size:7.70px;line-height:7.70px;font-weight:bold;left:354.71px;">15,5</span>
<span style="top:429.05px;font-size:7.70px;line-height:7.70px;font-weight:bold;left:397.29px;">7,5</span>
<span style="top:429.05px;font-size:7.70px;line-height:7.70px;font-weight:bold;left:436.99px;">5,6</span>
<span style="top:429.05px;font-size:7.70px;line-height:7.70px;font-weight:bold;left:475.29px;">2,3</span>
<span style="top:429.05px;font-size:7.70px;line-height:7.70px;font-weight:bold;left:521.42px;">0</span>
<span style="top:429.05px;font-size:7.70px;line-height:7.70px;font-weight:bold;left:559.72px;">0</span>
<span style="top:429.05px;font-size:7.70px;line-height:7.70px;font-weight:bold;left:599.42px;">0</span>
<span style="top:429.05px;font-size:7.70px;line-height:7.70px;font-weight:bold;left:637.72px;">0</span>
<span style="top:429.05px;font-size:7.70px;line-height:7.70px;font-weight:bold;left:677.42px;">0</span>
<span style="top:429.05px;font-size:7.70px;line-height:7.70px;font-weight:bold;left:719.72px;">0</span>
<span style="top:429.05px;font-size:7.70px;line-height:7.70px;font-weight:bold;left:757.99px;">0,7</span>
<span style="top:429.05px;font-size:7.70px;line-height:7.70px;font-weight:bold;left:796.29px;">0,7</span>
<span style="top:429.05px;font-size:7.70px;line-height:7.70px;font-weight:bold;left:835.99px;">4,2</span>
<span style="top:429.05px;font-size:7.70px;line-height:7.70px;font-weight:bold;left:874.29px;">2,4</span>
<span style="top:429.05px;font-size:7.70px;line-height:7.70px;font-weight:bold;left:913.99px;">6,9</span>
<span style="top:429.05px;font-size:7.70px;line-height:7.70px;font-weight:bold;left:953.29px;">6,4</span>
<span style="top:429.05px;font-size:7.70px;line-height:7.70px;font-weight:bold;left:988.71px;">12,4</span>
<span style="top:429.05px;font-size:7.70px;line-height:7.70px;font-weight:bold;left:1027.01px;">12,4</span>
<span style="top:429.05px;font-size:7.70px;line-height:7.70px;font-weight:bold;left:1066.71px;">12,3</span>
<span style="top:429.05px;font-size:7.70px;line-height:7.70px;font-weight:bold;left:1105.43px;">11,3</span>
<span style="top:439.68px;font-size:7.70px;line-height:7.70px;font-weight:bold;left:128.22px;">31</span>
<span style="top:439.68px;font-size:7.70px;line-height:7.70px;font-weight:bold;left:197.71px;">12,8</span>
<span style="top:439.68px;font-size:7.70px;line-height:7.70px;font-weight:bold;left:237.01px;">12,8</span>
<span style="top:439.68px;font-size:7.70px;line-height:7.70px;font-weight:bold;left:354.71px;">15,6</span>
<span style="top:439.68px;font-size:7.70px;line-height:7.70px;font-weight:bold;left:393.01px;">15,6</span>
<span style="top:439.68px;font-size:7.70px;line-height:7.70px;font-weight:bold;left:521.42px;">0</span>
<span style="top:439.68px;font-size:7.70px;line-height:7.70px;font-weight:bold;left:559.72px;">0</span>
<span style="top:439.68px;font-size:7.70px;line-height:7.70px;font-weight:bold;left:677.42px;">0</span>
<span style="top:439.68px;font-size:7.70px;line-height:7.70px;font-weight:bold;left:719.72px;">0</span>
<span style="top:439.68px;font-size:7.70px;line-height:7.70px;font-weight:bold;left:757.99px;">0,7</span>
<span style="top:439.68px;font-size:7.70px;line-height:7.70px;font-weight:bold;left:796.29px;">0,5</span>
<span style="top:439.68px;font-size:7.70px;line-height:7.70px;font-weight:bold;left:913.99px;">8,4</span>
<span style="top:439.68px;font-size:7.70px;line-height:7.70px;font-weight:bold;left:953.29px;">7,4</span>
<span style="top:439.68px;font-size:7.70px;line-height:7.70px;font-weight:bold;left:1067.13px;">11,6</span>
<span style="top:439.68px;font-size:7.70px;line-height:7.70px;font-weight:bold;left:1105.43px;">11,6</span>
<span style="top:451.78px;font-size:7.70px;line-height:7.70px;font-weight:bold;left:91.30px;transform:scaleX(0.930);transform-origin:left top;">Graddage 2018</span>
<span style="top:461.68px;font-size:7.70px;line-height:7.70px;font-weight:bold;left:91.30px;transform:scaleX(0.930);transform-origin:left top;">Graddage 2017</span>
<span style="top:472.78px;font-size:7.70px;line-height:7.70px;font-weight:bold;left:91.30px;transform:scaleX(0.930);transform-origin:left top;">Procent af 2017</span>
<span style="top:483.38px;font-size:7.70px;line-height:7.70px;font-weight:bold;left:91.30px;transform:scaleX(0.930);transform-origin:left top;">Normalår</span>
<span style="top:493.68px;font-size:7.70px;line-height:7.70px;font-weight:bold;left:91.30px;transform:scaleX(0.930);transform-origin:left top;">Procent af normalåret</span>
<span style="top:451.78px;font-size:7.70px;line-height:7.70px;font-weight:bold;left:193.42px;">428,5</span>
<span style="top:451.78px;font-size:7.70px;line-height:7.70px;font-weight:bold;left:232.72px;">413,7</span>
<span style="top:461.68px;font-size:7.70px;line-height:7.70px;font-weight:bold;left:193.42px;">480,5</span>
<span style="top:461.68px;font-size:7.70px;line-height:7.70px;font-weight:bold;left:232.72px;">442,4</span>
<span style="top:472.78px;font-size:7.70px;line-height:7.70px;font-weight:bold;left:197.28px;">89%</span>
<span style="top:472.78px;font-size:7.70px;line-height:7.70px;font-weight:bold;left:236.58px;">94%</span>
<span style="top:483.38px;font-size:7.70px;line-height:7.70px;font-weight:bold;left:199.85px;">519</span>
<span style="top:493.68px;font-size:7.70px;line-height:7.70px;font-weight:bold;left:197.28px;">83%</span>
<span style="top:451.78px;font-size:7.70px;line-height:7.70px;font-weight:bold;left:272.42px;">482,5</span>
<span style="top:451.78px;font-size:7.70px;line-height:7.70px;font-weight:bold;left:310.72px;">423,1</span>
<span style="top:461.68px;font-size:7.70px;line-height:7.70px;font-weight:bold;left:272.42px;">406,6</span>
<span style="top:461.68px;font-size:7.70px;line-height:7.70px;font-weight:bold;left:310.72px;">368,4</span>
<span style="top:472.78px;font-size:7.70px;line-height:7.70px;font-weight:bold;left:272.42px;">119%</span>
<span style="top:472.78px;font-size:7.70px;line-height:7.70px;font-weight:bold;left:310.72px;">115%</span>
<span style="top:483.38px;font-size:7.70px;line-height:7.70px;font-weight:bold;left:278.85px;">486</span>
<span style="top:493.68px;font-size:7.70px;line-height:7.70px;font-weight:bold;left:276.28px;">99%</span>
<span style="top:451.78px;font-size:7.70px;line-height:7.70px;font-weight:bold;left:350.42px;">504,9</span>
<span style="top:451.78px;font-size:7.70px;line-height:7.70px;font-weight:bold;left:388.72px;">445,5</span>
<span style="top:461.68px;font-size:7.70px;line-height:7.70px;font-weight:bold;left:356.85px;">357</span>
<span style="top:461.68px;font-size:7.70px;line-height:7.70px;font-weight:bold;left:388.72px;">282,1</span>
<span style="top:472.78px;font-size:7.70px;line-height:7.70px;font-weight:bold;left:350.00px;">141%</span>
<span style="top:472.78px;font-size:7.70px;line-height:7.70px;font-weight:bold;left:388.30px;">158%</span>
<span style="top:483.38px;font-size:7.70px;line-height:7.70px;font-weight:bold;left:356.85px;">444</span>
<span style="top:493.68px;font-size:7.70px;line-height:7.70px;font-weight:bold;left:350.42px;">114%</span>
<span style="top:451.78px;font-size:7.70px;line-height:7.70px;font-weight:bold;left:428.42px;">222,4</span>
<span style="top:451.78px;font-size:7.70px;line-height:7.70px;font-weight:bold;left:471.01px;">96,4</span>
<span style="top:461.68px;font-size:7.70px;line-height:7.70px;font-weight:bold;left:428.42px;">290,7</span>
<span style="top:461.68px;font-size:7.70px;line-height:7.70px;font-weight:bold;left:466.72px;">173,5</span>
<span style="top:472.78px;font-size:7.70px;line-height:7.70px;font-weight:bold;left:432.28px;">77%</span>
<span style="top:472.78px;font-size:7.70px;line-height:7.70px;font-weight:bold;left:470.58px;">56%</span>
<span style="top:483.38px;font-size:7.70px;line-height:7.70px;font-weight:bold;left:435.27px;">311</span>
<span style="top:493.68px;font-size:7.70px;line-height:7.70px;font-weight:bold;left:432.28px;">72%</span>
<span style="top:451.78px;font-size:7.70px;line-height:7.70px;font-weight:bold;left:510.71px;">48,7</span>
<span style="top:451.78px;font-size:7.70px;line-height:7.70px;font-weight:bold;left:553.29px;">7,1</span>
<span style="top:461.68px;font-size:7.70px;line-height:7.70px;font-weight:bold;left:506.42px;">126,1</span>
<span style="top:461.68px;font-size:7.70px;line-height:7.70px;font-weight:bold;left:549.01px;">64,7</span>
<span style="top:472.78px;font-size:7.70px;line-height:7.70px;font-weight:bold;left:510.28px;">39%</span>
<span style="top:472.78px;font-size:7.70px;line-height:7.70px;font-weight:bold;left:549.01px;">11%</span>
<span style="top:483.38px;font-size:7.70px;line-height:7.70px;font-weight:bold;left:512.85px;">154</span>
<span style="top:493.68px;font-size:7.70px;line-height:7.70px;font-weight:bold;left:510.28px;">32%</span>
<span style="top:451.78px;font-size:7.70px;line-height:7.70px;font-weight:bold;left:592.99px;">6,5</span>
<span style="top:451.78px;font-size:7.70px;line-height:7.70px;font-weight:bold;left:631.29px;">0,6</span>
<span style="top:461.68px;font-size:7.70px;line-height:7.70px;font-weight:bold;left:588.71px;">37,9</span>
<span style="top:461.68px;font-size:7.70px;line-height:7.70px;font-weight:bold;left:631.29px;">6,8</span>
<span style="top:472.78px;font-size:7.70px;line-height:7.70px;font-weight:bold;left:588.28px;">17%</span>
<span style="top:472.78px;font-size:7.70px;line-height:7.70px;font-weight:bold;left:630.87px;">9%</span>
<span style="top:483.38px;font-size:7.70px;line-height:7.70px;font-weight:bold;left:595.13px;">58</span>
<span style="top:493.68px;font-size:7.70px;line-height:7.70px;font-weight:bold;left:588.71px;">11%</span>
<span style="top:451.78px;font-size:7.70px;line-height:7.70px;font-weight:bold;left:677.42px;">0</span>
<span style="top:451.78px;font-size:7.70px;line-height:7.70px;font-weight:bold;left:719.72px;">0</span>
<span style="top:461.68px;font-size:7.70px;line-height:7.70px;font-weight:bold;left:666.71px;">18,7</span>
<span style="top:461.68px;font-size:7.70px;line-height:7.70px;font-weight:bold;left:713.29px;">3,2</span>
<span style="top:472.78px;font-size:7.70px;line-height:7.70px;font-weight:bold;left:670.57px;">0%</span>
<span style="top:472.78px;font-size:7.70px;line-height:7.70px;font-weight:bold;left:712.87px;">0%</span>
<span style="top:483.38px;font-size:7.70px;line-height:7.70px;font-weight:bold;left:673.13px;">22</span>
<span style="top:493.68px;font-size:7.70px;line-height:7.70px;font-weight:bold;left:670.57px;">0%</span>
<span style="top:451.78px;font-size:7.70px;line-height:7.70px;font-weight:bold;left:754.13px;">11,9</span>
<span style="top:451.78px;font-size:7.70px;line-height:7.70px;font-weight:bold;left:796.29px;">6,8</span>
<span style="top:461.68px;font-size:7.70px;line-height:7.70px;font-weight:bold;left:757.99px;">9,4</span>
<span style="top:461.68px;font-size:7.70px;line-height:7.70px;font-weight:bold;left:796.29px;">0,4</span>
<span style="top:472.78px;font-size:7.70px;line-height:7.70px;font-weight:bold;left:749.00px;">127%</span>
<span style="top:472.78px;font-size:7.70px;line-height:7.70px;font-weight:bold;left:783.01px;">1700%</span>
<span style="top:483.38px;font-size:7.70px;line-height:7.70px;font-weight:bold;left:760.13px;">18</span>
<span style="top:493.68px;font-size:7.70px;line-height:7.70px;font-weight:bold;left:753.28px;">66%</span>
<span style="top:451.78px;font-size:7.70px;line-height:7.70px;font-weight:bold;left:831.71px;">64,2</span>
<span style="top:451.78px;font-size:7.70px;line-height:7.70px;font-weight:bold;left:870.01px;">24,7</span>
<span style="top:461.68px;font-size:7.70px;line-height:7.70px;font-weight:bold;left:831.71px;">84,2</span>
<span style="top:461.68px;font-size:7.70px;line-height:7.70px;font-weight:bold;left:876.43px;">33</span>
<span style="top:472.78px;font-size:7.70px;line-height:7.70px;font-weight:bold;left:831.28px;">76%</span>
<span style="top:472.78px;font-size:7.70px;line-height:7.70px;font-weight:bold;left:869.58px;">75%</span>
<span style="top:483.38px;font-size:7.70px;line-height:7.70px;font-weight:bold;left:838.13px;">91</span>
<span style="top:493.68px;font-size:7.70px;line-height:7.70px;font-weight:bold;left:831.28px;">71%</span>
<span style="top:451.78px;font-size:7.70px;line-height:7.70px;font-weight:bold;left:905.42px;">188,2</span>
<span style="top:451.78px;font-size:7.70px;line-height:7.70px;font-weight:bold;left:951.15px;">126</span>
<span style="top:461.68px;font-size:7.70px;line-height:7.70px;font-weight:bold;left:905.42px;">175,6</span>
<span style="top:461.68px;font-size:7.70px;line-height:7.70px;font-weight:bold;left:944.72px;">134,5</span>
<span style="top:472.78px;font-size:7.70px;line-height:7.70px;font-weight:bold;left:905.00px;">107%</span>
<span style="top:472.78px;font-size:7.70px;line-height:7.70px;font-weight:bold;left:948.58px;">94%</span>
<span style="top:483.38px;font-size:7.70px;line-height:7.70px;font-weight:bold;left:911.85px;">207</span>
<span style="top:493.68px;font-size:7.70px;line-height:7.70px;font-weight:bold;left:909.28px;">91%</span>
<span style="top:451.78px;font-size:7.70px;line-height:7.70px;font-weight:bold;left:984.42px;">312,4</span>
<span style="top:451.78px;font-size:7.70px;line-height:7.70px;font-weight:bold;left:1022.72px;">273,7</span>
<span style="top:461.68px;font-size:7.70px;line-height:7.70px;font-weight:bold;left:984.42px;">325,5</span>
<span style="top:461.68px;font-size:7.70px;line-height:7.70px;font-weight:bold;left:1022.72px;">298,4</span>
<span style="top:472.78px;font-size:7.70px;line-height:7.70px;font-weight:bold;left:988.28px;">96%</span>
<span style="top:472.78px;font-size:7.70px;line-height:7.70px;font-weight:bold;left:1026.58px;">92%</span>
<span style="top:483.38px;font-size:7.70px;line-height:7.70px;font-weight:bold;left:990.85px;">341</span>
<span style="top:493.68px;font-size:7.70px;line-height:7.70px;font-weight:bold;left:988.28px;">92%</span>
<span style="top:451.78px;font-size:7.70px;line-height:7.70px;font-weight:bold;left:1062.42px;">383,6</span>
<span style="top:451.78px;font-size:7.70px;line-height:7.70px;font-weight:bold;left:1100.72px;">370,9</span>
<span style="top:461.68px;font-size:7.70px;line-height:7.70px;font-weight:bold;left:1062.42px;">393,9</span>
<span style="top:461.68px;font-size:7.70px;line-height:7.70px;font-weight:bold;left:1100.72px;">376,5</span>
<span style="top:472.78px;font-size:7.70px;line-height:7.70px;font-weight:bold;left:1066.28px;">97%</span>
<span style="top:472.78px;font-size:7.70px;line-height:7.70px;font-weight:bold;left:1104.58px;">99%</span>
<span style="top:483.38px;font-size:7.70px;line-height:7.70px;font-weight:bold;left:1068.85px;">461</span>
<span style="top:493.68px;font-size:7.70px;line-height:7.70px;font-weight:bold;left:1066.28px;">83%</span>
<span style="top:504.98px;font-size:7.70px;line-height:7.70px;font-weight:bold;left:91.30px;transform:scaleX(0.916);transform-origin:left top;">Graddage i normalåret = 3112 EMO.skyggegraddage (uafhængig af varmesæsonen) Kilde: Teknologisk Institut</span>
<div style="left:89px;top:524px;width:595px;height:1.6px;background:#000"></div>
<div style="left:89px;top:524px;width:1.3px;height:108.5px;background:#000"></div>
<div style="left:682px;top:524px;width:2px;height:108.5px;background:#000"></div>
<div style="left:89px;top:631px;width:595px;height:1.8px;background:#000"></div>
<div style="left:644px;top:524px;width:1px;height:108px;background:#000"></div>
<span style="top:527.00px;font-size:7.56px;line-height:7.56px;left:93.00px;transform:scaleX(0.962);transform-origin:left top;">Skyggegraddage</span>
<span style="top:527.00px;font-size:7.56px;line-height:7.56px;left:189.80px;">Jan</span>
<span style="top:527.00px;font-size:7.56px;line-height:7.56px;left:228.60px;">Feb</span>
<span style="top:527.00px;font-size:7.56px;line-height:7.56px;left:267.70px;">Mar</span>
<span style="top:527.00px;font-size:7.56px;line-height:7.56px;left:306.70px;">Apr</span>
<span style="top:527.00px;font-size:7.56px;line-height:7.56px;left:345.40px;">Maj</span>
<span style="top:527.00px;font-size:7.56px;line-height:7.56px;left:384.60px;">Jun</span>
<span style="top:527.00px;font-size:7.56px;line-height:7.56px;left:423.70px;">Jul</span>
<span style="top:527.00px;font-size:7.56px;line-height:7.56px;left:462.60px;">Aug</span>
<span style="top:527.00px;font-size:7.56px;line-height:7.56px;left:501.30px;">Sep</span>
<span style="top:527.00px;font-size:7.56px;line-height:7.56px;left:540.60px;">Okt</span>
<span style="top:527.00px;font-size:7.56px;line-height:7.56px;left:579.30px;">Nov</span>
<span style="top:527.00px;font-size:7.56px;line-height:7.56px;left:618.70px;">Dec</span>
<span style="top:537.69px;font-size:7.56px;line-height:7.56px;left:93.00px;transform:scaleX(0.962);transform-origin:left top;">2018 Skygge graddage</span>
<span style="top:537.69px;font-size:7.56px;line-height:7.56px;left:188.18px;">428,50</span>
<span style="top:537.69px;font-size:7.56px;line-height:7.56px;left:226.98px;">482,50</span>
<span style="top:537.69px;font-size:7.56px;line-height:7.56px;left:266.08px;">504,90</span>
<span style="top:537.69px;font-size:7.56px;line-height:7.56px;left:305.08px;">222,40</span>
<span style="top:537.69px;font-size:7.56px;line-height:7.56px;left:347.99px;">48,70</span>
<span style="top:537.69px;font-size:7.56px;line-height:7.56px;left:391.39px;">6,50</span>
<span style="top:537.69px;font-size:7.56px;line-height:7.56px;left:435.18px;">-</span>
<span style="top:537.69px;font-size:7.56px;line-height:7.56px;left:465.75px;">11,90</span>
<span style="top:537.69px;font-size:7.56px;line-height:7.56px;left:503.89px;">64,20</span>
<span style="top:537.69px;font-size:7.56px;line-height:7.56px;left:538.98px;">188,20</span>
<span style="top:537.69px;font-size:7.56px;line-height:7.56px;left:577.68px;">312,40</span>
<span style="top:537.69px;font-size:7.56px;line-height:7.56px;left:617.08px;">383,60</span>
<span style="top:537.69px;font-size:7.56px;line-height:7.56px;font-weight:bold;left:649.88px;transform:scaleX(0.880);transform-origin:right top;">2.659,80</span>
<span style="top:548.38px;font-size:7.56px;line-height:7.56px;left:93.00px;transform:scaleX(0.962);transform-origin:left top;">2017 Skygge graddage</span>
<span style="top:548.38px;font-size:7.56px;line-height:7.56px;left:188.18px;">480,50</span>
<span style="top:548.38px;font-size:7.56px;line-height:7.56px;left:226.98px;">406,60</span>
<span style="top:548.38px;font-size:7.56px;line-height:7.56px;left:266.08px;">357,00</span>
<span style="top:548.38px;font-size:7.56px;line-height:7.56px;left:305.08px;">290,70</span>
<span style="top:548.38px;font-size:7.56px;line-height:7.56px;left:343.78px;">126,10</span>
<span style="top:548.38px;font-size:7.56px;line-height:7.56px;left:387.19px;">37,90</span>
<span style="top:548.38px;font-size:7.56px;line-height:7.56px;left:426.29px;">18,70</span>
<span style="top:548.38px;font-size:7.56px;line-height:7.56px;left:469.39px;">9,40</span>
<span style="top:548.38px;font-size:7.56px;line-height:7.56px;left:503.89px;">84,20</span>
<span style="top:548.38px;font-size:7.56px;line-height:7.56px;left:538.98px;">175,60</span>
<span style="top:548.38px;font-size:7.56px;line-height:7.56px;left:577.68px;">325,50</span>
<span style="top:548.38px;font-size:7.56px;line-height:7.56px;left:617.08px;">393,90</span>
<span style="top:548.38px;font-size:7.56px;line-height:7.56px;font-weight:bold;left:649.88px;transform:scaleX(0.880);transform-origin:right top;">2.706,10</span>
<span style="top:559.07px;font-size:7.56px;line-height:7.56px;left:93.00px;transform:scaleX(1.026);transform-origin:left top;">Normalår</span>
<span style="top:559.07px;font-size:7.56px;line-height:7.56px;left:188.18px;">519,00</span>
<span style="top:559.07px;font-size:7.56px;line-height:7.56px;left:226.98px;">486,00</span>
<span style="top:559.07px;font-size:7.56px;line-height:7.56px;left:266.08px;">444,00</span>
<span style="top:559.07px;font-size:7.56px;line-height:7.56px;left:305.64px;">311,00</span>
<span style="top:559.07px;font-size:7.56px;line-height:7.56px;left:343.78px;">154,00</span>
<span style="top:559.07px;font-size:7.56px;line-height:7.56px;left:387.19px;">58,00</span>
<span style="top:559.07px;font-size:7.56px;line-height:7.56px;left:426.29px;">22,00</span>
<span style="top:559.07px;font-size:7.56px;line-height:7.56px;left:465.19px;">18,00</span>
<span style="top:559.07px;font-size:7.56px;line-height:7.56px;left:503.89px;">91,00</span>
<span style="top:559.07px;font-size:7.56px;line-height:7.56px;left:538.98px;">207,00</span>
<span style="top:559.07px;font-size:7.56px;line-height:7.56px;left:577.68px;">341,00</span>
<span style="top:559.07px;font-size:7.56px;line-height:7.56px;left:617.08px;">461,00</span>
<span style="top:559.07px;font-size:7.56px;line-height:7.56px;font-weight:bold;left:650.30px;transform:scaleX(0.880);transform-origin:right top;">3.112,00</span>
<span style="top:591.14px;font-size:7.56px;line-height:7.56px;left:93.00px;transform:scaleX(1.021);transform-origin:left top;">Graddage korrigeret for</span>
<span style="top:591.14px;font-size:7.56px;line-height:7.56px;left:189.80px;">Jan</span>
<span style="top:591.14px;font-size:7.56px;line-height:7.56px;left:228.60px;">Feb</span>
<span style="top:591.14px;font-size:7.56px;line-height:7.56px;left:267.70px;">Mar</span>
<span style="top:591.14px;font-size:7.56px;line-height:7.56px;left:306.70px;">Apr</span>
<span style="top:591.14px;font-size:7.56px;line-height:7.56px;left:345.40px;">Maj</span>
<span style="top:591.14px;font-size:7.56px;line-height:7.56px;left:384.60px;">Jun</span>
<span style="top:591.14px;font-size:7.56px;line-height:7.56px;left:423.70px;">Jul</span>
<span style="top:591.14px;font-size:7.56px;line-height:7.56px;left:462.60px;">Aug</span>
<span style="top:591.14px;font-size:7.56px;line-height:7.56px;left:501.30px;">Sep</span>
<span style="top:591.14px;font-size:7.56px;line-height:7.56px;left:540.60px;">Okt</span>
<span style="top:591.14px;font-size:7.56px;line-height:7.56px;left:579.30px;">Nov</span>
<span style="top:591.14px;font-size:7.56px;line-height:7.56px;left:618.70px;">Dec</span>
<span style="top:601.83px;font-size:7.56px;line-height:7.56px;left:93.00px;transform:scaleX(0.973);transform-origin:left top;">2018 Solgraddage</span>
<span style="top:601.83px;font-size:7.56px;line-height:7.56px;left:188.18px;">413,70</span>
<span style="top:601.83px;font-size:7.56px;line-height:7.56px;left:226.98px;">423,10</span>
<span style="top:601.83px;font-size:7.56px;line-height:7.56px;left:266.08px;">445,50</span>
<span style="top:601.83px;font-size:7.56px;line-height:7.56px;left:309.29px;">96,40</span>
<span style="top:601.83px;font-size:7.56px;line-height:7.56px;left:352.19px;">7,10</span>
<span style="top:601.83px;font-size:7.56px;line-height:7.56px;left:391.39px;">0,60</span>
<span style="top:601.83px;font-size:7.56px;line-height:7.56px;left:435.18px;">-</span>
<span style="top:601.83px;font-size:7.56px;line-height:7.56px;left:469.39px;">6,80</span>
<span style="top:601.83px;font-size:7.56px;line-height:7.56px;left:503.89px;">24,70</span>
<span style="top:601.83px;font-size:7.56px;line-height:7.56px;left:538.98px;">126,00</span>
<span style="top:601.83px;font-size:7.56px;line-height:7.56px;left:577.68px;">273,70</span>
<span style="top:601.83px;font-size:7.56px;line-height:7.56px;left:617.08px;">370,90</span>
<span style="top:601.83px;font-size:7.56px;line-height:7.56px;font-weight:bold;left:649.88px;transform:scaleX(0.880);transform-origin:right top;">2.188,50</span>
<span style="top:612.52px;font-size:7.56px;line-height:7.56px;left:93.00px;transform:scaleX(0.975);transform-origin:left top;">2017 Sol graddage</span>
<span style="top:612.52px;font-size:7.56px;line-height:7.56px;left:188.18px;">442,40</span>
<span style="top:612.52px;font-size:7.56px;line-height:7.56px;left:226.98px;">368,40</span>
<span style="top:612.52px;font-size:7.56px;line-height:7.56px;left:266.08px;">282,10</span>
<span style="top:612.52px;font-size:7.56px;line-height:7.56px;left:305.08px;">173,50</span>
<span style="top:612.52px;font-size:7.56px;line-height:7.56px;left:347.99px;">64,70</span>
<span style="top:612.52px;font-size:7.56px;line-height:7.56px;left:391.39px;">6,80</span>
<span style="top:612.52px;font-size:7.56px;line-height:7.56px;left:430.49px;">3,20</span>
<span style="top:612.52px;font-size:7.56px;line-height:7.56px;left:469.39px;">0,40</span>
<span style="top:612.52px;font-size:7.56px;line-height:7.56px;left:503.89px;">33,00</span>
<span style="top:612.52px;font-size:7.56px;line-height:7.56px;left:538.98px;">134,50</span>
<span style="top:612.52px;font-size:7.56px;line-height:7.56px;left:577.68px;">298,40</span>
<span style="top:612.52px;font-size:7.56px;line-height:7.56px;left:617.08px;">376,50</span>
<span style="top:612.52px;font-size:7.56px;line-height:7.56px;font-weight:bold;left:649.88px;transform:scaleX(0.880);transform-origin:right top;">2.189,90</span>
<span style="top:527.00px;font-size:7.56px;line-height:7.56px;left:655.10px;">SUM</span>
<div style="left:725px;top:524px;width:2px;height:34px;background:#000"></div>
<div style="left:808px;top:524px;width:2px;height:34px;background:#000"></div>
<div style="left:725px;top:524px;width:85px;height:2px;background:#000"></div>
<div style="left:725px;top:556px;width:85px;height:2px;background:#000"></div>
<span style="top:527.19px;font-size:6.98px;line-height:6.98px;font-weight:bold;left:748.23px;">sum til dato</span>
<span style="top:537.89px;font-size:6.98px;line-height:6.98px;font-weight:bold;left:736.00px;">Skygge</span>
<span style="top:537.89px;font-size:6.98px;line-height:6.98px;font-weight:bold;left:785.10px;">sol</span>
<span style="top:548.79px;font-size:6.98px;line-height:6.98px;font-weight:bold;left:746.46px;">2653,8</span>
<span style="top:548.79px;font-size:6.98px;line-height:6.98px;font-weight:bold;left:786.26px;">2188,5</span>
<span style="top:1009.65px;font-size:7.27px;line-height:7.27px;font-weight:bold;left:1368.00px;transform:scaleX(1.028);transform-origin:left top;">2019-09-19</span>
<svg width="1497" height="1058" style="position:absolute;left:0;top:0">
<rect x="89.5" y="636.5" width="594.7" height="289.7" fill="none" stroke="#7c7c7c" stroke-width="1.3"/>
<line x1="121" y1="870.50" x2="587" y2="870.50" stroke="#a7a7a7" stroke-width="1"/>
<line x1="121" y1="830.50" x2="587" y2="830.50" stroke="#a7a7a7" stroke-width="1"/>
<line x1="121" y1="790.50" x2="587" y2="790.50" stroke="#a7a7a7" stroke-width="1"/>
<line x1="121" y1="750.50" x2="587" y2="750.50" stroke="#a7a7a7" stroke-width="1"/>
<line x1="121" y1="710.50" x2="587" y2="710.50" stroke="#a7a7a7" stroke-width="1"/>
<line x1="121" y1="670.50" x2="587" y2="670.50" stroke="#a7a7a7" stroke-width="1"/>
<line x1="121.5" y1="670.50" x2="121.5" y2="910.50" stroke="#9a9a9a" stroke-width="1"/>
<line x1="121" y1="910.50" x2="587" y2="910.50" stroke="#9a9a9a" stroke-width="1"/>
<line x1="121.50" y1="910.50" x2="121.50" y2="913.50" stroke="#9a9a9a" stroke-width="1"/>
<line x1="160.50" y1="910.50" x2="160.50" y2="913.50" stroke="#9a9a9a" stroke-width="1"/>
<line x1="199.50" y1="910.50" x2="199.50" y2="913.50" stroke="#9a9a9a" stroke-width="1"/>
<line x1="238.50" y1="910.50" x2="238.50" y2="913.50" stroke="#9a9a9a" stroke-width="1"/>
<line x1="276.50" y1="910.50" x2="276.50" y2="913.50" stroke="#9a9a9a" stroke-width="1"/>
<line x1="315.50" y1="910.50" x2="315.50" y2="913.50" stroke="#9a9a9a" stroke-width="1"/>
<line x1="354.50" y1="910.50" x2="354.50" y2="913.50" stroke="#9a9a9a" stroke-width="1"/>
<line x1="393.50" y1="910.50" x2="393.50" y2="913.50" stroke="#9a9a9a" stroke-width="1"/>
<line x1="432.50" y1="910.50" x2="432.50" y2="913.50" stroke="#9a9a9a" stroke-width="1"/>
<line x1="470.50" y1="910.50" x2="470.50" y2="913.50" stroke="#9a9a9a" stroke-width="1"/>
<line x1="509.50" y1="910.50" x2="509.50" y2="913.50" stroke="#9a9a9a" stroke-width="1"/>
<line x1="548.50" y1="910.50" x2="548.50" y2="913.50" stroke="#9a9a9a" stroke-width="1"/>
<line x1="587.50" y1="910.50" x2="587.50" y2="913.50" stroke="#9a9a9a" stroke-width="1"/>
<polyline points="140.42,739.10 179.25,717.50 218.08,708.54 256.92,821.54 295.75,891.02 334.58,907.90 373.42,910.50 412.25,905.74 451.08,884.82 489.92,835.22 528.75,785.54 567.58,757.06" fill="none" stroke="#c00000" stroke-width="3.8" stroke-linejoin="round" stroke-linecap="round"/>
<polyline points="140.42,718.30 179.25,747.86 218.08,767.70 256.92,794.22 295.75,860.06 334.58,895.34 373.42,903.02 412.25,906.74 451.08,876.82 489.92,840.26 528.75,780.30 567.58,752.94" fill="none" stroke="#1ab0ee" stroke-width="3.8" stroke-linejoin="round" stroke-linecap="round"/>
<polyline points="140.42,702.90 179.25,716.10 218.08,732.90 256.92,786.10 295.75,848.90 334.58,887.30 373.42,901.70 412.25,903.30 451.08,874.10 489.92,827.70 528.75,774.10 567.58,726.10" fill="none" stroke="#203f7c" stroke-width="3.8" stroke-linejoin="round" stroke-linecap="round"/>
<rect x="690.5" y="636.8" width="431.8" height="229" fill="none" stroke="#808080" stroke-width="1.2"/>
<line x1="726" y1="829.25" x2="1028" y2="829.25" stroke="#a7a7a7" stroke-width="1"/>
<line x1="726" y1="811.40" x2="1028" y2="811.40" stroke="#a7a7a7" stroke-width="1"/>
<line x1="726" y1="793.55" x2="1028" y2="793.55" stroke="#a7a7a7" stroke-width="1"/>
<line x1="726" y1="775.70" x2="1028" y2="775.70" stroke="#a7a7a7" stroke-width="1"/>
<line x1="726" y1="757.85" x2="1028" y2="757.85" stroke="#a7a7a7" stroke-width="1"/>
<line x1="726" y1="740.00" x2="1028" y2="740.00" stroke="#a7a7a7" stroke-width="1"/>
<line x1="726" y1="722.15" x2="1028" y2="722.15" stroke="#a7a7a7" stroke-width="1"/>
<line x1="726" y1="704.30" x2="1028" y2="704.30" stroke="#a7a7a7" stroke-width="1"/>
<line x1="726" y1="686.45" x2="1028" y2="686.45" stroke="#a7a7a7" stroke-width="1"/>
<line x1="726" y1="668.60" x2="1028" y2="668.60" stroke="#a7a7a7" stroke-width="1"/>
<line x1="726.5" y1="668.60" x2="726.5" y2="847.10" stroke="#9a9a9a" stroke-width="1"/>
<line x1="726" y1="847.10" x2="1028" y2="847.10" stroke="#9a9a9a" stroke-width="1"/>
<line x1="726.50" y1="847.10" x2="726.50" y2="850.10" stroke="#9a9a9a" stroke-width="1"/>
<line x1="751.50" y1="847.10" x2="751.50" y2="850.10" stroke="#9a9a9a" stroke-width="1"/>
<line x1="776.50" y1="847.10" x2="776.50" y2="850.10" stroke="#9a9a9a" stroke-width="1"/>
<line x1="802.50" y1="847.10" x2="802.50" y2="850.10" stroke="#9a9a9a" stroke-width="1"/>
<line x1="827.50" y1="847.10" x2="827.50" y2="850.10" stroke="#9a9a9a" stroke-width="1"/>
<line x1="852.50" y1="847.10" x2="852.50" y2="850.10" stroke="#9a9a9a" stroke-width="1"/>
<line x1="877.50" y1="847.10" x2="877.50" y2="850.10" stroke="#9a9a9a" stroke-width="1"/>
<line x1="902.50" y1="847.10" x2="902.50" y2="850.10" stroke="#9a9a9a" stroke-width="1"/>
<line x1="927.50" y1="847.10" x2="927.50" y2="850.10" stroke="#9a9a9a" stroke-width="1"/>
<line x1="952.50" y1="847.10" x2="952.50" y2="850.10" stroke="#9a9a9a" stroke-width="1"/>
<line x1="978.50" y1="847.10" x2="978.50" y2="850.10" stroke="#9a9a9a" stroke-width="1"/>
<line x1="1003.50" y1="847.10" x2="1003.50" y2="850.10" stroke="#9a9a9a" stroke-width="1"/>
<line x1="1028.50" y1="847.10" x2="1028.50" y2="850.10" stroke="#9a9a9a" stroke-width="1"/>
<polyline points="738.58,699.41 763.75,696.05 788.92,688.06 814.08,812.69 839.25,844.57 864.42,846.89 889.58,847.10 914.75,844.67 939.92,838.28 965.08,802.12 990.25,749.39 1015.42,714.69" fill="none" stroke="#c00000" stroke-width="3.8" stroke-linejoin="round" stroke-linecap="round"/>
<polyline points="738.58,689.16 763.75,715.58 788.92,746.39 814.08,785.16 839.25,824.00 864.42,844.67 889.58,845.96 914.75,846.96 939.92,835.32 965.08,799.08 990.25,740.57 1015.42,712.69" fill="none" stroke="#8fcf4f" stroke-width="3.8" stroke-linejoin="round" stroke-linecap="round"/>
<line x1="613" y1="779" x2="629" y2="779" stroke="#c00000" stroke-width="3.4" stroke-linecap="round"/>
<line x1="613" y1="792.8" x2="629" y2="792.8" stroke="#1ab0ee" stroke-width="3.4" stroke-linecap="round"/>
<line x1="613" y1="806.5" x2="629" y2="806.5" stroke="#203f7c" stroke-width="3.4" stroke-linecap="round"/>
<line x1="1039" y1="755.9" x2="1055" y2="755.9" stroke="#c00000" stroke-width="3.4" stroke-linecap="round"/>
<line x1="1039" y1="769.5" x2="1055" y2="769.5" stroke="#8fcf4f" stroke-width="3.4" stroke-linecap="round"/>
<path d="M1022.7,907.3 C1016,908.5 1008,913 1006,919 C1004.5,924 1005.5,929 1008,931.2 C1010.5,933.5 1016,934.2 1020.8,930 C1016.5,930.5 1012,928.5 1010,925.5 C1008,922 1008.8,917.5 1011,914.5 C1013.5,911 1018,908.5 1022.7,907.3 Z" fill="#74b244"/>
<path d="M1014,916.4 C1017,913.5 1021,912.5 1024,913 C1028.5,914 1031,918.5 1030.8,923.5 C1030.5,929 1027,934 1022,936.2 C1019,937.6 1015.5,938.3 1012.5,938.5 C1017,936.5 1021.5,934 1024,930.5 C1026.5,927 1027,922.5 1025.8,919.5 C1024.5,916.5 1021.5,915.2 1018.5,915.2 C1016.5,915.2 1015,915.6 1014,916.4 Z" fill="#0e8574"/>
</svg>
<span style="top:640.03px;font-size:13.08px;line-height:13.08px;font-weight:bold;left:275.60px;transform:scaleX(0.894);transform-origin:left top;">2018/2017 Skyggegraddage</span>
<span style="top:647.93px;font-size:13.08px;line-height:13.08px;font-weight:bold;left:821.10px;transform:scaleX(0.904);transform-origin:left top;">2018/2017 Graddage solkorrigeret</span>
<span style="top:867.14px;font-size:6.69px;line-height:6.69px;color:#1a1a1a;-webkit-text-stroke:0.25px #1a1a1a;left:92.65px;">100,00</span>
<span style="top:827.14px;font-size:6.69px;line-height:6.69px;color:#1a1a1a;-webkit-text-stroke:0.25px #1a1a1a;left:92.65px;">200,00</span>
<span style="top:787.14px;font-size:6.69px;line-height:6.69px;color:#1a1a1a;-webkit-text-stroke:0.25px #1a1a1a;left:92.65px;">300,00</span>
<span style="top:747.14px;font-size:6.69px;line-height:6.69px;color:#1a1a1a;-webkit-text-stroke:0.25px #1a1a1a;left:92.65px;">400,00</span>
<span style="top:707.14px;font-size:6.69px;line-height:6.69px;color:#1a1a1a;-webkit-text-stroke:0.25px #1a1a1a;left:92.65px;">500,00</span>
<span style="top:667.14px;font-size:6.69px;line-height:6.69px;color:#1a1a1a;-webkit-text-stroke:0.25px #1a1a1a;left:92.65px;">600,00</span>
<span style="top:907.14px;font-size:6.69px;line-height:6.69px;color:#1a1a1a;left:107.77px;">-</span>
<span style="top:917.74px;font-size:6.69px;line-height:6.69px;color:#262626;-webkit-text-stroke:0.1px #262626;left:135.03px;">Jan</span>
<span style="top:917.74px;font-size:6.69px;line-height:6.69px;color:#262626;-webkit-text-stroke:0.1px #262626;left:173.49px;">Feb</span>
<span style="top:917.74px;font-size:6.69px;line-height:6.69px;color:#262626;-webkit-text-stroke:0.1px #262626;left:212.33px;">Mar</span>
<span style="top:917.74px;font-size:6.69px;line-height:6.69px;color:#262626;-webkit-text-stroke:0.1px #262626;left:251.71px;">Apr</span>
<span style="top:917.74px;font-size:6.69px;line-height:6.69px;color:#262626;-webkit-text-stroke:0.1px #262626;left:290.36px;">Maj</span>
<span style="top:917.74px;font-size:6.69px;line-height:6.69px;color:#262626;-webkit-text-stroke:0.1px #262626;left:329.19px;">Jun</span>
<span style="top:917.74px;font-size:6.69px;line-height:6.69px;color:#262626;-webkit-text-stroke:0.1px #262626;left:369.14px;">Jul</span>
<span style="top:917.74px;font-size:6.69px;line-height:6.69px;color:#262626;-webkit-text-stroke:0.1px #262626;left:406.30px;">Aug</span>
<span style="top:917.74px;font-size:6.69px;line-height:6.69px;color:#262626;-webkit-text-stroke:0.1px #262626;left:445.13px;">Sep</span>
<span style="top:917.74px;font-size:6.69px;line-height:6.69px;color:#262626;-webkit-text-stroke:0.1px #262626;left:484.72px;">Okt</span>
<span style="top:917.74px;font-size:6.69px;line-height:6.69px;color:#262626;-webkit-text-stroke:0.1px #262626;left:522.80px;">Nov</span>
<span style="top:917.74px;font-size:6.69px;line-height:6.69px;color:#262626;-webkit-text-stroke:0.1px #262626;left:561.64px;">Dec</span>
<span style="top:825.89px;font-size:6.69px;line-height:6.69px;color:#1a1a1a;-webkit-text-stroke:0.25px #1a1a1a;left:700.67px;">50,00</span>
<span style="top:808.04px;font-size:6.69px;line-height:6.69px;color:#1a1a1a;-webkit-text-stroke:0.25px #1a1a1a;left:696.95px;">100,00</span>
<span style="top:790.19px;font-size:6.69px;line-height:6.69px;color:#1a1a1a;-webkit-text-stroke:0.25px #1a1a1a;left:696.95px;">150,00</span>
<span style="top:772.34px;font-size:6.69px;line-height:6.69px;color:#1a1a1a;-webkit-text-stroke:0.25px #1a1a1a;left:696.95px;">200,00</span>
<span style="top:754.49px;font-size:6.69px;line-height:6.69px;color:#1a1a1a;-webkit-text-stroke:0.25px #1a1a1a;left:696.95px;">250,00</span>
<span style="top:736.64px;font-size:6.69px;line-height:6.69px;color:#1a1a1a;-webkit-text-stroke:0.25px #1a1a1a;left:696.95px;">300,00</span>
<span style="top:718.79px;font-size:6.69px;line-height:6.69px;color:#1a1a1a;-webkit-text-stroke:0.25px #1a1a1a;left:696.95px;">350,00</span>
<span style="top:700.94px;font-size:6.69px;line-height:6.69px;color:#1a1a1a;-webkit-text-stroke:0.25px #1a1a1a;left:696.95px;">400,00</span>
<span style="top:683.09px;font-size:6.69px;line-height:6.69px;color:#1a1a1a;-webkit-text-stroke:0.25px #1a1a1a;left:696.95px;">450,00</span>
<span style="top:665.24px;font-size:6.69px;line-height:6.69px;color:#1a1a1a;-webkit-text-stroke:0.25px #1a1a1a;left:696.95px;">500,00</span>
<span style="top:842.74px;font-size:6.69px;line-height:6.69px;color:#1a1a1a;left:711.77px;">-</span>
<span style="top:853.54px;font-size:6.69px;line-height:6.69px;color:#262626;-webkit-text-stroke:0.1px #262626;left:733.19px;">Jan</span>
<span style="top:853.54px;font-size:6.69px;line-height:6.69px;color:#262626;-webkit-text-stroke:0.1px #262626;left:757.99px;">Feb</span>
<span style="top:853.54px;font-size:6.69px;line-height:6.69px;color:#262626;-webkit-text-stroke:0.1px #262626;left:783.16px;">Mar</span>
<span style="top:853.54px;font-size:6.69px;line-height:6.69px;color:#262626;-webkit-text-stroke:0.1px #262626;left:808.88px;">Apr</span>
<span style="top:853.54px;font-size:6.69px;line-height:6.69px;color:#262626;-webkit-text-stroke:0.1px #262626;left:833.86px;">Maj</span>
<span style="top:853.54px;font-size:6.69px;line-height:6.69px;color:#262626;-webkit-text-stroke:0.1px #262626;left:859.03px;">Jun</span>
<span style="top:853.54px;font-size:6.69px;line-height:6.69px;color:#262626;-webkit-text-stroke:0.1px #262626;left:885.31px;">Jul</span>
<span style="top:853.54px;font-size:6.69px;line-height:6.69px;color:#262626;-webkit-text-stroke:0.1px #262626;left:908.80px;">Aug</span>
<span style="top:853.54px;font-size:6.69px;line-height:6.69px;color:#262626;-webkit-text-stroke:0.1px #262626;left:933.97px;">Sep</span>
<span style="top:853.54px;font-size:6.69px;line-height:6.69px;color:#262626;-webkit-text-stroke:0.1px #262626;left:959.88px;">Okt</span>
<span style="top:853.54px;font-size:6.69px;line-height:6.69px;color:#262626;-webkit-text-stroke:0.1px #262626;left:984.30px;">Nov</span>
<span style="top:853.54px;font-size:6.69px;line-height:6.69px;color:#262626;-webkit-text-stroke:0.1px #262626;left:1009.47px;">Dec</span>
<span style="top:775.54px;font-size:6.69px;line-height:6.69px;color:#1a1a1a;left:630.00px;">Graddage 2018</span>
<span style="top:789.94px;font-size:6.69px;line-height:6.69px;color:#1a1a1a;left:630.00px;">Graddage 2017</span>
<span style="top:803.34px;font-size:6.69px;line-height:6.69px;color:#1a1a1a;left:631.70px;">Normalår</span>
<span style="top:753.34px;font-size:6.69px;line-height:6.69px;color:#1a1a1a;left:1057.00px;">2018 Solgraddage</span>
<span style="top:767.04px;font-size:6.69px;line-height:6.69px;color:#1a1a1a;left:1057.00px;">2017 Sol graddage</span>
<span style="top:912.26px;font-size:12.21px;line-height:12.21px;color:#2a2a2a;left:1036.20px;transform:scaleX(1.060);transform-origin:left top;">DANSK</span>
<span style="top:923.86px;font-size:12.21px;line-height:12.21px;color:#2a2a2a;left:1036.20px;transform:scaleX(1.048);transform-origin:left top;">FJERNVARME</span>
</div></body></html>
